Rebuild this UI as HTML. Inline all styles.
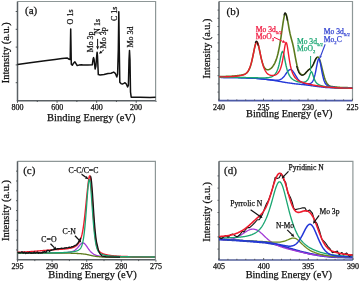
<!DOCTYPE html>
<html><head><meta charset="utf-8"><style>
html,body{margin:0;padding:0;background:#fff;width:360px;height:282px;overflow:hidden;}
svg{display:block;will-change:transform;}
text{font-family:"Liberation Serif",serif;}
</style></head><body>
<svg width="360" height="282" viewBox="0 0 360 282">
<path d="M17.5,1.5 H155.6 V100.8" fill="none" stroke="#8e9797" stroke-width="1.2"/>
<path d="M17.5,1.5 V100.8" fill="none" stroke="#5a6064" stroke-width="1.5"/>
<path d="M16.8,100.8 H155.6" fill="none" stroke="#5a6064" stroke-width="1.6"/>
<path d="M15.7,82.7 H17.5" stroke="#4e5458" stroke-width="1"/>
<path d="M15.7,64.9 H17.5" stroke="#4e5458" stroke-width="1"/>
<path d="M15.7,47.099999999999994 H17.5" stroke="#4e5458" stroke-width="1"/>
<path d="M15.7,29.299999999999997 H17.5" stroke="#4e5458" stroke-width="1"/>
<path d="M15.7,11.5 H17.5" stroke="#4e5458" stroke-width="1"/>
<path d="M17.50,100.8 V102.8" stroke="#4e5458" stroke-width="1"/>
<path d="M37.29,100.8 V102.0" stroke="#4e5458" stroke-width="1"/>
<path d="M57.07,100.8 V102.8" stroke="#4e5458" stroke-width="1"/>
<path d="M76.86,100.8 V102.0" stroke="#4e5458" stroke-width="1"/>
<path d="M96.64,100.8 V102.8" stroke="#4e5458" stroke-width="1"/>
<path d="M116.43,100.8 V102.0" stroke="#4e5458" stroke-width="1"/>
<path d="M136.22,100.8 V102.8" stroke="#4e5458" stroke-width="1"/>
<path d="M156.00,100.8 V102.0" stroke="#4e5458" stroke-width="1"/>
<text x="17.5" y="109.5" font-size="8" fill="#111" stroke="#111" stroke-width="0.25" text-anchor="middle" >800</text>
<text x="57.2" y="109.5" font-size="8" fill="#111" stroke="#111" stroke-width="0.25" text-anchor="middle" >600</text>
<text x="96.7" y="109.5" font-size="8" fill="#111" stroke="#111" stroke-width="0.25" text-anchor="middle" >400</text>
<text x="136.1" y="109.5" font-size="8" fill="#111" stroke="#111" stroke-width="0.25" text-anchor="middle" >200</text>
<text x="47" y="120.8" font-size="10.5" fill="#111" stroke="#111" stroke-width="0.25" text-anchor="start" >Binding Energy (eV)</text>
<text transform="translate(8.9,83.2) rotate(-90)" font-size="10.4" fill="#111" stroke="#111" stroke-width="0.25" text-anchor="start">Intensity (a.u.)</text>
<text x="25" y="13.9" font-size="11" fill="#111" stroke="#111" stroke-width="0.25" text-anchor="start" >(a)</text>
<path d="M17.50,64.50 L30.00,62.80 L45.00,60.80 L55.00,59.40 L62.00,58.60 L67.40,58.10 L69.20,59.30 L70.20,59.60 L70.50,40.00 L70.70,28.90 L70.90,40.00 L71.30,64.30 L72.30,65.30 L73.50,63.20 L74.90,61.80 L76.00,63.60 L77.20,65.60 L79.00,65.10 L81.60,64.80 L83.00,65.00 L88.00,65.00 L92.30,64.80 L93.10,59.00 L93.60,57.60 L94.10,59.50 L95.10,69.00 L95.90,66.00 L96.70,56.00 L97.10,52.20 L97.50,56.00 L98.30,74.60 L100.00,74.90 L104.00,74.50 L108.00,73.60 L111.00,73.20 L113.70,72.10 L115.30,73.30 L116.80,77.00 L117.60,74.00 L118.30,50.00 L118.80,11.80 L119.30,50.00 L119.80,82.20 L121.00,83.60 L122.30,84.10 L123.80,83.40 L125.00,82.70 L126.30,84.00 L127.60,87.00 L128.40,85.50 L129.00,60.00 L129.50,50.60 L130.00,60.00 L130.50,92.00 L131.20,97.20 L140.00,97.30 L150.00,97.40 L155.60,97.30" fill="none" stroke="#111" stroke-width="1.5" stroke-linejoin="round"/>
<text transform="translate(72.6,24.4) rotate(-90)" font-size="8" fill="#111" stroke="#111" stroke-width="0.25" text-anchor="start">O 1s</text>
<text transform="translate(116.8,21.1) rotate(-90)" font-size="8" fill="#111" stroke="#111" stroke-width="0.25" text-anchor="start">C 1s</text>
<text transform="translate(132.9,47.5) rotate(-90)" font-size="8" fill="#111" stroke="#111" stroke-width="0.25" text-anchor="start">Mo 3d</text>
<text transform="translate(100.0,33.9) rotate(-90)" font-size="8" fill="#111" stroke="#111" stroke-width="0.25" text-anchor="start">N 1s</text>
<text transform="translate(92.6,52.2) rotate(-90)" font-size="7.8" fill="#111" stroke="#111" stroke-width="0.25" text-anchor="start">Mo 3p</text>
<text transform="translate(106.2,48.4) rotate(-90)" font-size="8" fill="#111" stroke="#111" stroke-width="0.25" text-anchor="start">Mo 3p</text>
<path d="M97.60,38.90 L97.60,46.30" stroke="#111" stroke-width="1.0" fill="none"/>
<path d="M97.60,49.80 L96.10,46.30 L99.10,46.30 Z" fill="#111"/>
<path d="M103.90,49.80 L101.40,51.80" stroke="#111" stroke-width="1.0" fill="none"/>
<path d="M98.90,53.80 L100.46,50.63 L102.34,52.97 Z" fill="#111"/>
<path d="M219,1.5 H352.5 V100.6" fill="none" stroke="#8e9797" stroke-width="1.2"/>
<path d="M219,1.5 V100.6" fill="none" stroke="#5a6064" stroke-width="1.5"/>
<path d="M218.3,100.6 H352.5" fill="none" stroke="#4d5aa8" stroke-width="1.6"/>
<path d="M217.5,92.1 H219" stroke="#4e5458" stroke-width="0.9"/>
<path d="M217.5,83.9 H219" stroke="#4e5458" stroke-width="0.9"/>
<path d="M217.5,75.7 H219" stroke="#4e5458" stroke-width="0.9"/>
<path d="M217.5,67.5 H219" stroke="#4e5458" stroke-width="0.9"/>
<path d="M217.5,59.3 H219" stroke="#4e5458" stroke-width="0.9"/>
<path d="M217.5,51.1 H219" stroke="#4e5458" stroke-width="0.9"/>
<path d="M217.5,42.900000000000006 H219" stroke="#4e5458" stroke-width="0.9"/>
<path d="M217.5,34.7 H219" stroke="#4e5458" stroke-width="0.9"/>
<path d="M217.5,26.5 H219" stroke="#4e5458" stroke-width="0.9"/>
<path d="M217.5,18.299999999999997 H219" stroke="#4e5458" stroke-width="0.9"/>
<path d="M217.5,10.100000000000009 H219" stroke="#4e5458" stroke-width="0.9"/>
<path d="M219.00,100.6 V98.6" stroke="#4e5458" stroke-width="0.9"/>
<path d="M227.90,100.6 V99.39999999999999" stroke="#4e5458" stroke-width="0.9"/>
<path d="M236.80,100.6 V99.39999999999999" stroke="#4e5458" stroke-width="0.9"/>
<path d="M245.70,100.6 V99.39999999999999" stroke="#4e5458" stroke-width="0.9"/>
<path d="M254.60,100.6 V99.39999999999999" stroke="#4e5458" stroke-width="0.9"/>
<path d="M263.50,100.6 V98.6" stroke="#4e5458" stroke-width="0.9"/>
<path d="M272.40,100.6 V99.39999999999999" stroke="#4e5458" stroke-width="0.9"/>
<path d="M281.30,100.6 V99.39999999999999" stroke="#4e5458" stroke-width="0.9"/>
<path d="M290.20,100.6 V99.39999999999999" stroke="#4e5458" stroke-width="0.9"/>
<path d="M299.10,100.6 V99.39999999999999" stroke="#4e5458" stroke-width="0.9"/>
<path d="M308.00,100.6 V98.6" stroke="#4e5458" stroke-width="0.9"/>
<path d="M316.90,100.6 V99.39999999999999" stroke="#4e5458" stroke-width="0.9"/>
<path d="M325.80,100.6 V99.39999999999999" stroke="#4e5458" stroke-width="0.9"/>
<path d="M334.70,100.6 V99.39999999999999" stroke="#4e5458" stroke-width="0.9"/>
<path d="M343.60,100.6 V99.39999999999999" stroke="#4e5458" stroke-width="0.9"/>
<path d="M352.50,100.6 V98.6" stroke="#4e5458" stroke-width="0.9"/>
<text x="219.0" y="109.5" font-size="8" fill="#111" stroke="#111" stroke-width="0.25" text-anchor="middle" >240</text>
<text x="263.5" y="109.5" font-size="8" fill="#111" stroke="#111" stroke-width="0.25" text-anchor="middle" >235</text>
<text x="308.0" y="109.5" font-size="8" fill="#111" stroke="#111" stroke-width="0.25" text-anchor="middle" >230</text>
<text x="352.5" y="109.5" font-size="8" fill="#111" stroke="#111" stroke-width="0.25" text-anchor="middle" >225</text>
<text x="246.1" y="117.1" font-size="10.25" fill="#111" stroke="#111" stroke-width="0.25" text-anchor="start" >Binding Energy (eV)</text>
<text transform="translate(210.3,78.4) rotate(-90)" font-size="10.2" fill="#111" stroke="#111" stroke-width="0.25" text-anchor="start">Intensity (a.u.)</text>
<text x="226.6" y="14.5" font-size="11" fill="#111" stroke="#111" stroke-width="0.25" text-anchor="start" >(b)</text>
<path d="M219.00,76.59 L219.50,76.58 L220.00,76.57 L220.50,76.56 L221.00,76.55 L221.50,76.54 L222.00,76.53 L222.50,76.52 L223.00,76.51 L223.50,76.50 L224.00,76.48 L224.50,76.47 L225.00,76.46 L225.50,76.44 L226.00,76.42 L226.50,76.41 L227.00,76.39 L227.50,76.37 L228.00,76.35 L228.50,76.33 L229.00,76.31 L229.50,76.28 L230.00,76.26 L230.50,76.23 L231.00,76.21 L231.50,76.18 L232.00,76.15 L232.50,76.12 L233.00,76.08 L233.50,76.05 L234.00,76.01 L234.50,75.97 L235.00,75.92 L235.50,75.88 L236.00,75.83 L236.50,75.78 L237.00,75.72 L237.50,75.66 L238.00,75.60 L238.50,75.53 L239.00,75.46 L239.50,75.38 L240.00,75.30 L240.50,75.22 L241.00,75.14 L241.50,75.04 L242.00,74.94 L242.50,74.83 L243.00,74.70 L243.50,74.55 L244.00,74.39 L244.50,74.20 L245.00,73.98 L245.50,73.72 L246.00,73.41 L246.50,73.04 L247.00,72.60 L247.50,72.07 L248.00,71.43 L248.50,70.67 L249.00,69.76 L249.50,68.69 L250.00,67.43 L250.50,65.97 L251.00,64.31 L251.50,62.43 L252.00,60.35 L252.50,58.08 L253.00,55.66 L253.50,53.13 L254.00,50.58 L254.50,48.11 L255.00,45.84 L255.50,43.97 L256.00,42.60 L256.50,41.88 L257.00,41.87 L257.50,42.57 L258.00,43.91 L258.50,45.74 L259.00,47.91 L259.50,50.26 L260.00,52.68 L260.50,55.06 L261.00,57.32 L261.50,59.42 L262.00,61.33 L262.50,63.02 L263.00,64.49 L263.50,65.75 L264.00,66.79 L264.50,67.65 L265.00,68.32 L265.50,68.86 L266.00,69.25 L266.50,69.52 L267.00,69.69 L267.50,69.76 L268.00,69.75 L268.50,69.67 L269.00,69.52 L269.50,69.31 L270.00,69.04 L270.50,68.71 L271.00,68.32 L271.50,67.86 L272.00,67.35 L272.50,66.76 L273.00,66.10 L273.50,65.36 L274.00,64.52 L274.50,63.59 L275.00,62.55 L275.50,61.42 L276.00,60.15 L276.50,58.73 L277.00,57.16 L277.50,55.40 L278.00,53.46 L278.50,51.30 L279.00,48.93 L279.50,46.32 L280.00,43.48 L280.50,40.41 L281.00,37.14 L281.50,33.70 L282.00,30.16 L282.50,26.62 L283.00,23.21 L283.50,20.07 L284.00,17.38 L284.50,15.32 L285.00,14.02 L285.50,13.57 L286.00,14.00 L286.50,15.26 L287.00,17.23 L287.50,19.72 L288.00,22.53 L288.50,25.45 L289.00,28.32 L289.50,31.00 L290.00,33.43 L290.50,35.61 L291.00,37.56 L291.50,39.39 L292.00,41.19 L292.50,43.07 L293.00,45.12 L293.50,47.39 L294.00,49.87 L294.50,52.54 L295.00,55.30 L295.50,58.05 L296.00,60.70 L296.50,63.17 L297.00,65.40 L297.50,67.35 L298.00,69.02 L298.50,70.41 L299.00,71.56 L299.50,72.50 L300.00,73.24 L300.50,73.83 L301.00,74.27 L301.50,74.59 L302.00,74.78 L302.50,74.85 L303.00,74.81 L303.50,74.66 L304.00,74.40 L304.50,74.05 L305.00,73.61 L305.50,73.13 L306.00,72.60 L306.50,72.05 L307.00,71.49 L307.50,70.95 L308.00,70.43 L308.50,69.96 L309.00,69.52 L309.50,69.10 L310.00,68.70 L310.50,68.27 L311.00,67.81 L311.50,67.28 L312.00,66.65 L312.50,65.91 L313.00,65.05 L313.50,64.08 L314.00,63.02 L314.50,61.90 L315.00,60.77 L315.50,59.68 L316.00,58.71 L316.50,57.91 L317.00,57.34 L317.50,57.06 L318.00,57.10 L318.50,57.48 L319.00,58.21 L319.50,59.28 L320.00,60.64 L320.50,62.27 L321.00,64.10 L321.50,66.07 L322.00,68.13 L322.50,70.21 L323.00,72.25 L323.50,74.21 L324.00,76.04 L324.50,77.73 L325.00,79.24 L325.50,80.55 L326.00,81.69 L326.50,82.66 L327.00,83.47 L327.50,84.14 L328.00,84.69 L328.50,85.13 L329.00,85.48 L329.50,85.76 L330.00,85.99 L330.50,86.17 L331.00,86.31 L331.50,86.43 L332.00,86.53 L332.50,86.61 L333.00,86.69 L333.50,86.75 L334.00,86.82 L334.50,86.87 L335.00,86.93 L335.50,86.98 L336.00,87.03 L336.50,87.08 L337.00,87.13 L337.50,87.18 L338.00,87.23 L338.50,87.28 L339.00,87.32 L339.50,87.37 L340.00,87.41 L340.50,87.43 L341.00,87.45 L341.50,87.47 L342.00,87.49 L342.50,87.51 L343.00,87.53 L343.50,87.54 L344.00,87.56 L344.50,87.58 L345.00,87.59 L345.50,87.61 L346.00,87.63 L346.50,87.64 L347.00,87.66 L347.50,87.67 L348.00,87.69 L348.50,87.70 L349.00,87.71 L349.50,87.73 L350.00,87.74 L350.50,87.76 L351.00,87.77 L351.50,87.78 L352.00,87.79 L352.50,87.81" fill="none" stroke="#5b7a1c" stroke-width="1.6"/>
<path d="M219.00,77.40 L219.50,77.41 L220.00,77.41 L220.50,77.42 L221.00,77.43 L221.50,77.44 L222.00,77.44 L222.50,77.45 L223.00,77.46 L223.50,77.46 L224.00,77.47 L224.50,77.48 L225.00,77.49 L225.50,77.49 L226.00,77.50 L226.50,77.51 L227.00,77.51 L227.50,77.52 L228.00,77.53 L228.50,77.54 L229.00,77.54 L229.50,77.55 L230.00,77.56 L230.50,77.56 L231.00,77.57 L231.50,77.58 L232.00,77.59 L232.50,77.59 L233.00,77.60 L233.50,77.61 L234.00,77.61 L234.50,77.62 L235.00,77.63 L235.50,77.64 L236.00,77.64 L236.50,77.65 L237.00,77.66 L237.50,77.66 L238.00,77.67 L238.50,77.68 L239.00,77.69 L239.50,77.69 L240.00,77.70 L240.50,77.72 L241.00,77.74 L241.50,77.76 L242.00,77.78 L242.50,77.80 L243.00,77.82 L243.50,77.84 L244.00,77.86 L244.50,77.88 L245.00,77.90 L245.50,77.92 L246.00,77.94 L246.50,77.96 L247.00,77.98 L247.50,78.00 L248.00,78.02 L248.50,78.04 L249.00,78.06 L249.50,78.08 L250.00,78.10 L250.50,78.12 L251.00,78.14 L251.50,78.16 L252.00,78.18 L252.50,78.20 L253.00,78.22 L253.50,78.24 L254.00,78.26 L254.50,78.28 L255.00,78.30 L255.50,78.35 L256.00,78.40 L256.50,78.45 L257.00,78.50 L257.50,78.55 L258.00,78.60 L258.50,78.65 L259.00,78.70 L259.50,78.75 L260.00,78.80 L260.50,78.85 L261.00,78.90 L261.50,78.95 L262.00,79.00 L262.50,79.05 L263.00,79.10 L263.50,79.15 L264.00,79.20 L264.50,79.25 L265.00,79.30 L265.50,79.36 L266.00,79.43 L266.50,79.49 L267.00,79.56 L267.50,79.62 L268.00,79.69 L268.50,79.75 L269.00,79.82 L269.50,79.88 L270.00,79.95 L270.50,80.02 L271.00,80.08 L271.50,80.14 L272.00,80.21 L272.50,80.27 L273.00,80.34 L273.50,80.41 L274.00,80.47 L274.50,80.53 L275.00,80.60 L275.50,80.69 L276.00,80.78 L276.50,80.87 L277.00,80.96 L277.50,81.05 L278.00,81.14 L278.50,81.23 L279.00,81.32 L279.50,81.41 L280.00,81.50 L280.50,81.59 L281.00,81.68 L281.50,81.77 L282.00,81.86 L282.50,81.95 L283.00,82.04 L283.50,82.13 L284.00,82.22 L284.50,82.31 L285.00,82.40 L285.50,82.47 L286.00,82.54 L286.50,82.61 L287.00,82.68 L287.50,82.75 L288.00,82.82 L288.50,82.89 L289.00,82.96 L289.50,83.03 L290.00,83.10 L290.50,83.17 L291.00,83.24 L291.50,83.31 L292.00,83.38 L292.50,83.45 L293.00,83.52 L293.50,83.59 L294.00,83.66 L294.50,83.73 L295.00,83.80 L295.50,83.85 L296.00,83.90 L296.50,83.95 L297.00,84.00 L297.50,84.05 L298.00,84.10 L298.50,84.15 L299.00,84.20 L299.50,84.25 L300.00,84.30 L300.50,84.35 L301.00,84.40 L301.50,84.45 L302.00,84.50 L302.50,84.55 L303.00,84.60 L303.50,84.65 L304.00,84.70 L304.50,84.75 L305.00,84.80 L305.50,84.87 L306.00,84.94 L306.50,85.01 L307.00,85.08 L307.50,85.15 L308.00,85.22 L308.50,85.29 L309.00,85.36 L309.50,85.43 L310.00,85.50 L310.50,85.57 L311.00,85.64 L311.50,85.71 L312.00,85.78 L312.50,85.85 L313.00,85.92 L313.50,85.99 L314.00,86.06 L314.50,86.13 L315.00,86.20 L315.50,86.26 L316.00,86.32 L316.50,86.38 L317.00,86.44 L317.50,86.50 L318.00,86.56 L318.50,86.62 L319.00,86.68 L319.50,86.74 L320.00,86.80 L320.50,86.86 L321.00,86.92 L321.50,86.98 L322.00,87.04 L322.50,87.10 L323.00,87.16 L323.50,87.22 L324.00,87.28 L324.50,87.34 L325.00,87.40 L325.50,87.43 L326.00,87.46 L326.50,87.49 L327.00,87.52 L327.50,87.55 L328.00,87.58 L328.50,87.61 L329.00,87.64 L329.50,87.67 L330.00,87.70 L330.50,87.73 L331.00,87.76 L331.50,87.79 L332.00,87.82 L332.50,87.85 L333.00,87.88 L333.50,87.91 L334.00,87.94 L334.50,87.97 L335.00,88.00 L335.50,88.03 L336.00,88.06 L336.50,88.09 L337.00,88.12 L337.50,88.15 L338.00,88.18 L338.50,88.21 L339.00,88.24 L339.50,88.27 L340.00,88.30 L340.50,88.30 L341.00,88.31 L341.50,88.31 L342.00,88.32 L342.50,88.32 L343.00,88.32 L343.50,88.33 L344.00,88.33 L344.50,88.34 L345.00,88.34 L345.50,88.34 L346.00,88.35 L346.50,88.35 L347.00,88.36 L347.50,88.36 L348.00,88.36 L348.50,88.37 L349.00,88.37 L349.50,88.38 L350.00,88.38 L350.50,88.38 L351.00,88.39 L351.50,88.39 L352.00,88.40 L352.50,88.40" fill="none" stroke="#2438d8" stroke-width="1.4"/>
<path d="M219.00,77.37 L219.50,77.38 L220.00,77.38 L220.50,77.39 L221.00,77.40 L221.50,77.40 L222.00,77.41 L222.50,77.42 L223.00,77.42 L223.50,77.43 L224.00,77.44 L224.50,77.44 L225.00,77.45 L225.50,77.46 L226.00,77.46 L226.50,77.47 L227.00,77.48 L227.50,77.48 L228.00,77.49 L228.50,77.50 L229.00,77.50 L229.50,77.51 L230.00,77.52 L230.50,77.52 L231.00,77.53 L231.50,77.54 L232.00,77.54 L232.50,77.55 L233.00,77.56 L233.50,77.56 L234.00,77.57 L234.50,77.57 L235.00,77.58 L235.50,77.59 L236.00,77.59 L236.50,77.60 L237.00,77.61 L237.50,77.61 L238.00,77.62 L238.50,77.63 L239.00,77.63 L239.50,77.64 L240.00,77.64 L240.50,77.66 L241.00,77.68 L241.50,77.70 L242.00,77.72 L242.50,77.74 L243.00,77.76 L243.50,77.78 L244.00,77.80 L244.50,77.82 L245.00,77.83 L245.50,77.85 L246.00,77.87 L246.50,77.89 L247.00,77.91 L247.50,77.93 L248.00,77.95 L248.50,77.97 L249.00,77.98 L249.50,78.00 L250.00,78.02 L250.50,78.04 L251.00,78.06 L251.50,78.08 L252.00,78.09 L252.50,78.11 L253.00,78.13 L253.50,78.15 L254.00,78.17 L254.50,78.18 L255.00,78.20 L255.50,78.25 L256.00,78.30 L256.50,78.34 L257.00,78.39 L257.50,78.44 L258.00,78.49 L258.50,78.53 L259.00,78.58 L259.50,78.63 L260.00,78.67 L260.50,78.72 L261.00,78.77 L261.50,78.81 L262.00,78.86 L262.50,78.91 L263.00,78.95 L263.50,79.00 L264.00,79.04 L264.50,79.09 L265.00,79.13 L265.50,79.19 L266.00,79.25 L266.50,79.31 L267.00,79.37 L267.50,79.43 L268.00,79.48 L268.50,79.54 L269.00,79.60 L269.50,79.65 L270.00,79.71 L270.50,79.76 L271.00,79.82 L271.50,79.87 L272.00,79.92 L272.50,79.97 L273.00,80.01 L273.50,80.06 L274.00,80.09 L274.50,80.13 L275.00,80.15 L275.50,80.19 L276.00,80.22 L276.50,80.24 L277.00,80.24 L277.50,80.23 L278.00,80.19 L278.50,80.12 L279.00,80.02 L279.50,79.88 L280.00,79.71 L280.50,79.49 L281.00,79.22 L281.50,78.90 L282.00,78.53 L282.50,78.09 L283.00,77.61 L283.50,77.07 L284.00,76.48 L284.50,75.85 L285.00,75.18 L285.50,74.47 L286.00,73.74 L286.50,73.02 L287.00,72.32 L287.50,71.66 L288.00,71.05 L288.50,70.52 L289.00,70.09 L289.50,69.78 L290.00,69.59 L290.50,69.54 L291.00,69.64 L291.50,69.88 L292.00,70.26 L292.50,70.75 L293.00,71.36 L293.50,72.05 L294.00,72.81 L294.50,73.62 L295.00,74.46 L295.50,75.29 L296.00,76.12 L296.50,76.92 L297.00,77.70 L297.50,78.43 L298.00,79.12 L298.50,79.75 L299.00,80.33 L299.50,80.86 L300.00,81.32 L300.50,81.73 L301.00,82.09 L301.50,82.40 L302.00,82.67 L302.50,82.89 L303.00,83.08 L303.50,83.23 L304.00,83.36 L304.50,83.46 L305.00,83.54 L305.50,83.62 L306.00,83.68 L306.50,83.73 L307.00,83.76 L307.50,83.77 L308.00,83.77 L308.50,83.74 L309.00,83.69 L309.50,83.61 L310.00,83.49 L310.50,83.32 L311.00,83.07 L311.50,82.72 L312.00,82.24 L312.50,81.60 L313.00,80.76 L313.50,79.67 L314.00,78.30 L314.50,76.63 L315.00,74.65 L315.50,72.37 L316.00,69.86 L316.50,67.20 L317.00,64.55 L317.50,62.14 L318.00,60.22 L318.50,59.09 L319.00,58.94 L319.50,59.82 L320.00,61.59 L320.50,63.97 L321.00,66.68 L321.50,69.48 L322.00,72.19 L322.50,74.70 L323.00,76.94 L323.50,78.87 L324.00,80.49 L324.50,81.83 L325.00,82.90 L325.50,83.73 L326.00,84.38 L326.50,84.88 L327.00,85.28 L327.50,85.59 L328.00,85.84 L328.50,86.05 L329.00,86.23 L329.50,86.38 L330.00,86.52 L330.50,86.64 L331.00,86.75 L331.50,86.85 L332.00,86.95 L332.50,87.03 L333.00,87.12 L333.50,87.19 L334.00,87.27 L334.50,87.33 L335.00,87.40 L335.50,87.46 L336.00,87.52 L336.50,87.58 L337.00,87.64 L337.50,87.69 L338.00,87.74 L338.50,87.79 L339.00,87.84 L339.50,87.89 L340.00,87.94 L340.50,87.96 L341.00,87.97 L341.50,87.99 L342.00,88.01 L342.50,88.02 L343.00,88.04 L343.50,88.05 L344.00,88.07 L344.50,88.08 L345.00,88.09 L345.50,88.11 L346.00,88.12 L346.50,88.13 L347.00,88.14 L347.50,88.15 L348.00,88.16 L348.50,88.17 L349.00,88.18 L349.50,88.19 L350.00,88.20 L350.50,88.21 L351.00,88.22 L351.50,88.23 L352.00,88.24 L352.50,88.25" fill="none" stroke="#2438d8" stroke-width="1.4"/>
<path d="M219.00,77.28 L219.50,77.28 L220.00,77.29 L220.50,77.29 L221.00,77.30 L221.50,77.30 L222.00,77.31 L222.50,77.31 L223.00,77.32 L223.50,77.32 L224.00,77.33 L224.50,77.33 L225.00,77.34 L225.50,77.34 L226.00,77.34 L226.50,77.35 L227.00,77.35 L227.50,77.36 L228.00,77.36 L228.50,77.37 L229.00,77.37 L229.50,77.37 L230.00,77.38 L230.50,77.38 L231.00,77.39 L231.50,77.39 L232.00,77.39 L232.50,77.40 L233.00,77.40 L233.50,77.40 L234.00,77.41 L234.50,77.41 L235.00,77.41 L235.50,77.41 L236.00,77.42 L236.50,77.42 L237.00,77.42 L237.50,77.42 L238.00,77.43 L238.50,77.43 L239.00,77.43 L239.50,77.43 L240.00,77.43 L240.50,77.45 L241.00,77.46 L241.50,77.47 L242.00,77.49 L242.50,77.50 L243.00,77.51 L243.50,77.52 L244.00,77.54 L244.50,77.55 L245.00,77.56 L245.50,77.57 L246.00,77.58 L246.50,77.59 L247.00,77.60 L247.50,77.61 L248.00,77.62 L248.50,77.63 L249.00,77.64 L249.50,77.64 L250.00,77.65 L250.50,77.66 L251.00,77.66 L251.50,77.67 L252.00,77.67 L252.50,77.68 L253.00,77.68 L253.50,77.68 L254.00,77.68 L254.50,77.68 L255.00,77.68 L255.50,77.71 L256.00,77.74 L256.50,77.76 L257.00,77.79 L257.50,77.81 L258.00,77.83 L258.50,77.85 L259.00,77.87 L259.50,77.88 L260.00,77.90 L260.50,77.91 L261.00,77.91 L261.50,77.92 L262.00,77.92 L262.50,77.92 L263.00,77.92 L263.50,77.91 L264.00,77.89 L264.50,77.87 L265.00,77.85 L265.50,77.84 L266.00,77.81 L266.50,77.78 L267.00,77.75 L267.50,77.70 L268.00,77.64 L268.50,77.57 L269.00,77.49 L269.50,77.39 L270.00,77.27 L270.50,77.13 L271.00,76.97 L271.50,76.78 L272.00,76.57 L272.50,76.31 L273.00,76.02 L273.50,75.67 L274.00,75.27 L274.50,74.80 L275.00,74.26 L275.50,73.64 L276.00,72.91 L276.50,72.05 L277.00,71.03 L277.50,69.83 L278.00,68.42 L278.50,66.77 L279.00,64.88 L279.50,62.74 L280.00,60.39 L280.50,57.93 L281.00,55.53 L281.50,53.45 L282.00,51.98 L282.50,51.39 L283.00,51.80 L283.50,53.15 L284.00,55.21 L284.50,57.69 L285.00,60.33 L285.50,62.88 L286.00,65.26 L286.50,67.40 L287.00,69.28 L287.50,70.92 L288.00,72.35 L288.50,73.58 L289.00,74.64 L289.50,75.57 L290.00,76.37 L290.50,77.07 L291.00,77.69 L291.50,78.24 L292.00,78.72 L292.50,79.15 L293.00,79.54 L293.50,79.89 L294.00,80.20 L294.50,80.48 L295.00,80.74 L295.50,80.96 L296.00,81.15 L296.50,81.33 L297.00,81.48 L297.50,81.63 L298.00,81.76 L298.50,81.87 L299.00,81.97 L299.50,82.06 L300.00,82.13 L300.50,82.19 L301.00,82.24 L301.50,82.27 L302.00,82.28 L302.50,82.28 L303.00,82.25 L303.50,82.20 L304.00,82.12 L304.50,82.00 L305.00,81.84 L305.50,81.65 L306.00,81.39 L306.50,81.05 L307.00,80.61 L307.50,80.03 L308.00,79.29 L308.50,78.36 L309.00,77.21 L309.50,75.85 L310.00,74.38 L310.50,72.98 L311.00,71.99 L311.50,71.74 L312.00,72.34 L312.50,73.61 L313.00,75.22 L313.50,76.86 L314.00,78.36 L314.50,79.64 L315.00,80.71 L315.50,81.59 L316.00,82.31 L316.50,82.90 L317.00,83.40 L317.50,83.82 L318.00,84.18 L318.50,84.49 L319.00,84.76 L319.50,85.00 L320.00,85.21 L320.50,85.40 L321.00,85.58 L321.50,85.74 L322.00,85.89 L322.50,86.03 L323.00,86.16 L323.50,86.28 L324.00,86.40 L324.50,86.51 L325.00,86.61 L325.50,86.69 L326.00,86.75 L326.50,86.82 L327.00,86.88 L327.50,86.94 L328.00,87.00 L328.50,87.05 L329.00,87.11 L329.50,87.16 L330.00,87.21 L330.50,87.26 L331.00,87.30 L331.50,87.35 L332.00,87.40 L332.50,87.44 L333.00,87.49 L333.50,87.53 L334.00,87.57 L334.50,87.61 L335.00,87.65 L335.50,87.69 L336.00,87.73 L336.50,87.77 L337.00,87.81 L337.50,87.85 L338.00,87.89 L338.50,87.93 L339.00,87.96 L339.50,88.00 L340.00,88.04 L340.50,88.05 L341.00,88.06 L341.50,88.07 L342.00,88.08 L342.50,88.09 L343.00,88.10 L343.50,88.11 L344.00,88.12 L344.50,88.12 L345.00,88.13 L345.50,88.14 L346.00,88.15 L346.50,88.16 L347.00,88.17 L347.50,88.17 L348.00,88.18 L348.50,88.19 L349.00,88.20 L349.50,88.20 L350.00,88.21 L350.50,88.22 L351.00,88.23 L351.50,88.23 L352.00,88.24 L352.50,88.25" fill="none" stroke="#1aa672" stroke-width="1.4"/>
<path d="M219.00,76.90 L219.50,76.90 L220.00,76.89 L220.50,76.89 L221.00,76.88 L221.50,76.88 L222.00,76.87 L222.50,76.86 L223.00,76.85 L223.50,76.85 L224.00,76.84 L224.50,76.83 L225.00,76.81 L225.50,76.80 L226.00,76.79 L226.50,76.78 L227.00,76.76 L227.50,76.75 L228.00,76.73 L228.50,76.71 L229.00,76.69 L229.50,76.67 L230.00,76.65 L230.50,76.63 L231.00,76.60 L231.50,76.58 L232.00,76.55 L232.50,76.52 L233.00,76.49 L233.50,76.45 L234.00,76.42 L234.50,76.38 L235.00,76.33 L235.50,76.29 L236.00,76.24 L236.50,76.19 L237.00,76.13 L237.50,76.07 L238.00,76.00 L238.50,75.93 L239.00,75.85 L239.50,75.76 L240.00,75.67 L240.50,75.58 L241.00,75.49 L241.50,75.38 L242.00,75.26 L242.50,75.12 L243.00,74.96 L243.50,74.79 L244.00,74.59 L244.50,74.35 L245.00,74.08 L245.50,73.77 L246.00,73.40 L246.50,72.96 L247.00,72.45 L247.50,71.85 L248.00,71.15 L248.50,70.32 L249.00,69.36 L249.50,68.25 L250.00,66.98 L250.50,65.53 L251.00,63.90 L251.50,62.09 L252.00,60.09 L252.50,57.93 L253.00,55.64 L253.50,53.25 L254.00,50.82 L254.50,48.46 L255.00,46.27 L255.50,44.41 L256.00,43.02 L256.50,42.20 L257.00,42.04 L257.50,42.57 L258.00,43.73 L258.50,45.42 L259.00,47.49 L259.50,49.81 L260.00,52.24 L260.50,54.68 L261.00,57.05 L261.50,59.31 L262.00,61.42 L262.50,63.34 L263.00,65.09 L263.50,66.65 L264.00,68.02 L264.50,69.23 L265.00,70.27 L265.50,71.19 L266.00,71.97 L266.50,72.63 L267.00,73.19 L267.50,73.67 L268.00,74.06 L268.50,74.39 L269.00,74.67 L269.50,74.89 L270.00,75.08 L270.50,75.22 L271.00,75.33 L271.50,75.40 L272.00,75.45 L272.50,75.47 L273.00,75.45 L273.50,75.40 L274.00,75.32 L274.50,75.20 L275.00,75.05 L275.50,74.87 L276.00,74.65 L276.50,74.37 L277.00,74.02 L277.50,73.60 L278.00,73.10 L278.50,72.49 L279.00,71.75 L279.50,70.88 L280.00,69.84 L280.50,68.59 L281.00,67.11 L281.50,65.36 L282.00,63.29 L282.50,60.88 L283.00,58.13 L283.50,55.06 L284.00,51.79 L284.50,48.55 L285.00,45.67 L285.50,43.55 L286.00,42.59 L286.50,42.99 L287.00,44.70 L287.50,47.41 L288.00,50.70 L288.50,54.19 L289.00,57.59 L289.50,60.73 L290.00,63.53 L290.50,65.99 L291.00,68.12 L291.50,69.95 L292.00,71.53 L292.50,72.90 L293.00,74.07 L293.50,75.10 L294.00,75.99 L294.50,76.77 L295.00,77.46 L295.50,78.06 L296.00,78.59 L296.50,79.06 L297.00,79.48 L297.50,79.87 L298.00,80.21 L298.50,80.53 L299.00,80.82 L299.50,81.09 L300.00,81.33 L300.50,81.56 L301.00,81.77 L301.50,81.97 L302.00,82.16 L302.50,82.33 L303.00,82.50 L303.50,82.65 L304.00,82.80 L304.50,82.94 L305.00,83.07 L305.50,83.22 L306.00,83.36 L306.50,83.50 L307.00,83.64 L307.50,83.77 L308.00,83.89 L308.50,84.01 L309.00,84.13 L309.50,84.25 L310.00,84.36 L310.50,84.47 L311.00,84.58 L311.50,84.69 L312.00,84.79 L312.50,84.90 L313.00,85.00 L313.50,85.10 L314.00,85.20 L314.50,85.29 L315.00,85.39 L315.50,85.47 L316.00,85.56 L316.50,85.64 L317.00,85.72 L317.50,85.80 L318.00,85.88 L318.50,85.96 L319.00,86.03 L319.50,86.11 L320.00,86.19 L320.50,86.26 L321.00,86.34 L321.50,86.41 L322.00,86.49 L322.50,86.56 L323.00,86.63 L323.50,86.71 L324.00,86.78 L324.50,86.85 L325.00,86.92 L325.50,86.96 L326.00,87.00 L326.50,87.04 L327.00,87.08 L327.50,87.12 L328.00,87.16 L328.50,87.20 L329.00,87.24 L329.50,87.28 L330.00,87.31 L330.50,87.35 L331.00,87.39 L331.50,87.43 L332.00,87.46 L332.50,87.50 L333.00,87.54 L333.50,87.57 L334.00,87.61 L334.50,87.65 L335.00,87.68 L335.50,87.72 L336.00,87.75 L336.50,87.79 L337.00,87.82 L337.50,87.86 L338.00,87.89 L338.50,87.93 L339.00,87.96 L339.50,88.00 L340.00,88.03 L340.50,88.04 L341.00,88.05 L341.50,88.06 L342.00,88.06 L342.50,88.07 L343.00,88.08 L343.50,88.09 L344.00,88.10 L344.50,88.10 L345.00,88.11 L345.50,88.12 L346.00,88.13 L346.50,88.13 L347.00,88.14 L347.50,88.15 L348.00,88.15 L348.50,88.16 L349.00,88.17 L349.50,88.18 L350.00,88.18 L350.50,88.19 L351.00,88.20 L351.50,88.20 L352.00,88.21 L352.50,88.22" fill="none" stroke="#ee1c2e" stroke-width="1.4"/>
<path d="M255.20,43.05 L255.70,41.80 L256.20,41.22 L256.70,41.35 L257.20,42.19 L257.70,43.64 L258.20,45.55" fill="none" stroke="#151515" stroke-width="1.1"/>
<path d="M283.90,15.36 L284.40,13.74 L284.90,12.94 L285.40,13.02 L285.90,13.97 L286.40,15.67 L286.90,17.98 L287.40,20.68" fill="none" stroke="#151515" stroke-width="1.1"/>
<path d="M296.60,65.80 L297.10,67.75 L297.60,69.42 L298.10,70.81 L298.60,71.96 L299.10,72.90 L299.60,73.64 L300.10,74.23 L300.60,74.67 L301.10,74.99 L301.60,75.18 L302.10,75.25 L302.60,75.21 L303.10,75.06 L303.60,74.80 L304.10,74.45 L304.60,74.01 L305.10,73.53 L305.60,73.00 L306.10,72.45 L306.60,71.89 L307.10,71.35 L307.60,70.83 L308.10,70.36 L308.60,69.92 L309.10,69.50 L309.60,69.10 L310.10,68.67 L310.60,68.21 L311.10,67.68 L311.60,67.05 L312.10,66.31 L312.60,65.45 L313.10,64.48 L313.60,63.42 L314.10,62.30 L314.60,61.17 L315.10,60.08 L315.60,59.11 L316.10,58.31 L316.60,57.74 L317.10,57.46" fill="none" stroke="#151515" stroke-width="1.1"/>
<text x="255.8" y="31.7" font-size="7.6" fill="#f0143c" stroke="#f0143c" stroke-width="0.25">Mo 3d<tspan font-size="4.6" dy="2.5">5/2</tspan></text>
<text x="255.8" y="39.2" font-size="7.6" fill="#f0143c" stroke="#f0143c" stroke-width="0.25">MoO<tspan font-size="4.6" dy="2.2">3</tspan></text>
<path d="M273.90,37.20 L282.71,41.42" stroke="#f0143c" stroke-width="1.0" fill="none"/>
<path d="M285.60,42.80 L282.02,42.86 L283.40,39.98 Z" fill="#f0143c"/>
<text x="296.9" y="43.9" font-size="7.6" fill="#1aa672" stroke="#1aa672" stroke-width="0.25">Mo 3d<tspan font-size="4.6" dy="2.5">5/2</tspan></text>
<text x="296.9" y="51.2" font-size="7.6" fill="#1aa672" stroke="#1aa672" stroke-width="0.25">MoO<tspan font-size="4.6" dy="2.2">2</tspan></text>
<path d="M310.6,56 V71" stroke="#1aa672" stroke-width="1"/>
<text x="323.8" y="33.7" font-size="7.6" fill="#2f3fd0" stroke="#2f3fd0" stroke-width="0.25">Mo 3d<tspan font-size="4.6" dy="2.5">5/2</tspan></text>
<text x="323.8" y="41.7" font-size="7.6" fill="#2f3fd0" stroke="#2f3fd0" stroke-width="0.25">Mo<tspan font-size="4.6" dy="2.2">2</tspan><tspan dy="-2.2">C</tspan></text>
<path d="M325.20,44.20 L320.67,56.00" stroke="#2f3fd0" stroke-width="1.1" fill="none"/>
<path d="M319.60,58.80 L319.46,55.53 L321.89,56.46 Z" fill="#2f3fd0"/>
<path d="M17.5,161.3 H155.4 V259.8" fill="none" stroke="#8e9797" stroke-width="1.2"/>
<path d="M17.5,161.3 V259.8" fill="none" stroke="#5a6064" stroke-width="1.5"/>
<path d="M16.8,259.8 H155.4" fill="none" stroke="#5a6064" stroke-width="1.6"/>
<path d="M16.0,249.95000000000002 H17.5" stroke="#4e5458" stroke-width="0.9"/>
<path d="M16.0,240.10000000000002 H17.5" stroke="#4e5458" stroke-width="0.9"/>
<path d="M16.0,230.25 H17.5" stroke="#4e5458" stroke-width="0.9"/>
<path d="M16.0,220.4 H17.5" stroke="#4e5458" stroke-width="0.9"/>
<path d="M16.0,210.55 H17.5" stroke="#4e5458" stroke-width="0.9"/>
<path d="M16.0,200.70000000000002 H17.5" stroke="#4e5458" stroke-width="0.9"/>
<path d="M16.0,190.85000000000002 H17.5" stroke="#4e5458" stroke-width="0.9"/>
<path d="M16.0,181.0 H17.5" stroke="#4e5458" stroke-width="0.9"/>
<path d="M16.0,171.15000000000003 H17.5" stroke="#4e5458" stroke-width="0.9"/>
<path d="M17.50,259.8 V261.8" stroke="#4e5458" stroke-width="0.9"/>
<path d="M34.80,259.8 V261.1" stroke="#4e5458" stroke-width="0.9"/>
<path d="M52.10,259.8 V261.8" stroke="#4e5458" stroke-width="0.9"/>
<path d="M69.40,259.8 V261.1" stroke="#4e5458" stroke-width="0.9"/>
<path d="M86.70,259.8 V261.8" stroke="#4e5458" stroke-width="0.9"/>
<path d="M104.00,259.8 V261.1" stroke="#4e5458" stroke-width="0.9"/>
<path d="M121.30,259.8 V261.8" stroke="#4e5458" stroke-width="0.9"/>
<path d="M138.60,259.8 V261.1" stroke="#4e5458" stroke-width="0.9"/>
<path d="M155.90,259.8 V261.8" stroke="#4e5458" stroke-width="0.9"/>
<text x="17.5" y="269.3" font-size="8" fill="#111" stroke="#111" stroke-width="0.25" text-anchor="middle" >295</text>
<text x="52.1" y="269.3" font-size="8" fill="#111" stroke="#111" stroke-width="0.25" text-anchor="middle" >290</text>
<text x="86.7" y="269.3" font-size="8" fill="#111" stroke="#111" stroke-width="0.25" text-anchor="middle" >285</text>
<text x="121.3" y="269.3" font-size="8" fill="#111" stroke="#111" stroke-width="0.25" text-anchor="middle" >280</text>
<text x="155.9" y="269.3" font-size="8" fill="#111" stroke="#111" stroke-width="0.25" text-anchor="middle" >275</text>
<text x="48.3" y="277.9" font-size="10.5" fill="#111" stroke="#111" stroke-width="0.25" text-anchor="start" >Binding Energy (eV)</text>
<text transform="translate(8.5,241) rotate(-90)" font-size="10.4" fill="#111" stroke="#111" stroke-width="0.25" text-anchor="start">Intensity (a.u.)</text>
<text x="23.2" y="173.8" font-size="11" fill="#111" stroke="#111" stroke-width="0.25" text-anchor="start" >(c)</text>
<path d="M17.50,252.95 L17.80,252.95 L18.10,252.96 L18.40,252.96 L18.70,252.96 L19.00,252.96 L19.30,252.96 L19.60,252.96 L19.90,252.96 L20.20,252.96 L20.50,252.96 L20.80,252.96 L21.10,252.96 L21.40,252.96 L21.70,252.96 L22.00,252.96 L22.30,252.96 L22.60,252.97 L22.90,252.97 L23.20,252.97 L23.50,252.97 L23.80,252.97 L24.10,252.97 L24.40,252.97 L24.70,252.97 L25.00,252.97 L25.30,252.97 L25.60,252.97 L25.90,252.97 L26.20,252.97 L26.50,252.97 L26.80,252.97 L27.10,252.97 L27.40,252.97 L27.70,252.97 L28.00,252.97 L28.30,252.98 L28.60,252.98 L28.90,252.98 L29.20,252.98 L29.50,252.98 L29.80,252.98 L30.10,252.98 L30.40,252.98 L30.70,252.98 L31.00,252.98 L31.30,252.98 L31.60,252.98 L31.90,252.98 L32.20,252.98 L32.50,252.98 L32.80,252.98 L33.10,252.98 L33.40,252.98 L33.70,252.98 L34.00,252.98 L34.30,252.98 L34.60,252.98 L34.90,252.98 L35.20,252.98 L35.50,252.98 L35.80,252.98 L36.10,252.98 L36.40,252.98 L36.70,252.98 L37.00,252.98 L37.30,252.98 L37.60,252.98 L37.90,252.98 L38.20,252.98 L38.50,252.98 L38.80,252.98 L39.10,252.98 L39.40,252.98 L39.70,252.98 L40.00,252.98 L40.30,252.98 L40.60,252.98 L40.90,252.98 L41.20,252.98 L41.50,252.98 L41.80,252.98 L42.10,252.98 L42.40,252.98 L42.70,252.98 L43.00,252.98 L43.30,252.97 L43.60,252.97 L43.90,252.97 L44.20,252.97 L44.50,252.97 L44.80,252.97 L45.10,252.97 L45.40,252.97 L45.70,252.97 L46.00,252.97 L46.30,252.97 L46.60,252.96 L46.90,252.96 L47.20,252.96 L47.50,252.96 L47.80,252.96 L48.10,252.96 L48.40,252.96 L48.70,252.95 L49.00,252.95 L49.30,252.95 L49.60,252.95 L49.90,252.95 L50.20,252.95 L50.50,252.94 L50.80,252.94 L51.10,252.94 L51.40,252.94 L51.70,252.93 L52.00,252.93 L52.30,252.93 L52.60,252.93 L52.90,252.92 L53.20,252.92 L53.50,252.92 L53.80,252.91 L54.10,252.91 L54.40,252.91 L54.70,252.90 L55.00,252.90 L55.30,252.90 L55.60,252.89 L55.90,252.89 L56.20,252.88 L56.50,252.88 L56.80,252.87 L57.10,252.87 L57.40,252.86 L57.70,252.86 L58.00,252.85 L58.30,252.85 L58.60,252.84 L58.90,252.83 L59.20,252.83 L59.50,252.82 L59.80,252.81 L60.10,252.81 L60.40,252.80 L60.70,252.79 L61.00,252.78 L61.30,252.77 L61.60,252.76 L61.90,252.75 L62.20,252.74 L62.50,252.73 L62.80,252.72 L63.10,252.71 L63.40,252.70 L63.70,252.69 L64.00,252.67 L64.30,252.66 L64.60,252.64 L64.90,252.63 L65.20,252.61 L65.50,252.59 L65.80,252.57 L66.10,252.55 L66.40,252.53 L66.70,252.51 L67.00,252.48 L67.30,252.46 L67.60,252.43 L67.90,252.40 L68.20,252.36 L68.50,252.33 L68.80,252.29 L69.10,252.24 L69.40,252.19 L69.70,252.14 L70.00,252.09 L70.30,252.04 L70.60,251.98 L70.90,251.92 L71.20,251.85 L71.50,251.77 L71.80,251.69 L72.10,251.59 L72.40,251.49 L72.70,251.38 L73.00,251.26 L73.30,251.12 L73.60,250.98 L73.90,250.82 L74.20,250.65 L74.50,250.46 L74.80,250.26 L75.10,250.05 L75.40,249.82 L75.70,249.58 L76.00,249.32 L76.30,249.05 L76.60,248.77 L76.90,248.47 L77.20,248.15 L77.50,247.83 L77.80,247.49 L78.10,247.15 L78.40,246.79 L78.70,246.43 L79.00,246.07 L79.30,245.70 L79.60,245.34 L79.90,244.98 L80.20,244.65 L80.50,244.34 L80.80,244.05 L81.10,243.78 L81.40,243.54 L81.70,243.34 L82.00,243.17 L82.30,243.05 L82.60,242.97 L82.90,242.95 L83.20,242.98 L83.50,243.05 L83.80,243.18 L84.10,243.36 L84.40,243.58 L84.70,243.84 L85.00,244.14 L85.30,244.47 L85.60,244.82 L85.90,245.20 L86.20,245.61 L86.50,246.05 L86.80,246.49 L87.10,246.93 L87.40,247.38 L87.70,247.82 L88.00,248.25 L88.30,248.68 L88.60,249.10 L88.90,249.51 L89.20,249.90 L89.50,250.29 L89.80,250.66 L90.10,251.01 L90.40,251.36 L90.70,251.69 L91.00,252.00 L91.30,252.30 L91.60,252.59 L91.90,252.86 L92.20,253.11 L92.50,253.36 L92.80,253.59 L93.10,253.81 L93.40,253.99 L93.70,254.17 L94.00,254.34 L94.30,254.50 L94.60,254.65 L94.90,254.79 L95.20,254.92 L95.50,255.05 L95.80,255.17 L96.10,255.28 L96.40,255.39 L96.70,255.49 L97.00,255.57 L97.30,255.64 L97.60,255.71 L97.90,255.78 L98.20,255.84 L98.50,255.90 L98.80,255.96 L99.10,256.02 L99.40,256.07 L99.70,256.12 L100.00,256.17 L100.30,256.22 L100.60,256.27 L100.90,256.32 L101.20,256.37 L101.50,256.41 L101.80,256.46 L102.10,256.49 L102.40,256.51 L102.70,256.52 L103.00,256.53 L103.30,256.55 L103.60,256.56 L103.90,256.57 L104.20,256.59 L104.50,256.60 L104.80,256.61 L105.10,256.62 L105.40,256.63 L105.70,256.64 L106.00,256.65 L106.30,256.66 L106.60,256.67 L106.90,256.68 L107.20,256.68 L107.50,256.69 L107.80,256.70 L108.10,256.71 L108.40,256.71 L108.70,256.72 L109.00,256.73 L109.30,256.74 L109.60,256.74 L109.90,256.75 L110.20,256.75 L110.50,256.76 L110.80,256.77 L111.10,256.77 L111.40,256.78 L111.70,256.78 L112.00,256.79 L112.30,256.79 L112.60,256.80 L112.90,256.80 L113.20,256.81 L113.50,256.81 L113.80,256.82 L114.10,256.82 L114.40,256.83 L114.70,256.83 L115.00,256.83 L115.30,256.84 L115.60,256.84 L115.90,256.85 L116.20,256.85 L116.50,256.85 L116.80,256.86 L117.10,256.86 L117.40,256.86 L117.70,256.87 L118.00,256.87 L118.30,256.87 L118.60,256.88 L118.90,256.88 L119.20,256.88 L119.50,256.89 L119.80,256.89 L120.10,256.89 L120.40,256.89 L120.70,256.90 L121.00,256.90 L121.30,256.90 L121.60,256.90 L121.90,256.91 L122.20,256.91 L122.50,256.91 L122.80,256.91 L123.10,256.92 L123.40,256.92 L123.70,256.92 L124.00,256.92 L124.30,256.93 L124.60,256.93 L124.90,256.93 L125.20,256.93 L125.50,256.93 L125.80,256.94 L126.10,256.94 L126.40,256.94 L126.70,256.94 L127.00,256.94 L127.30,256.95 L127.60,256.95 L127.90,256.95 L128.20,256.95 L128.50,256.95 L128.80,256.96 L129.10,256.96 L129.40,256.96 L129.70,256.96 L130.00,256.96 L130.30,256.96 L130.60,256.97 L130.90,256.97 L131.20,256.97 L131.50,256.97 L131.80,256.97 L132.10,256.97 L132.40,256.98 L132.70,256.98 L133.00,256.98 L133.30,256.98 L133.60,256.98 L133.90,256.98 L134.20,256.98 L134.50,256.99 L134.80,256.99 L135.10,256.99 L135.40,256.99 L135.70,256.99 L136.00,256.99 L136.30,256.99 L136.60,257.00 L136.90,257.00 L137.20,257.00 L137.50,257.00 L137.80,257.00 L138.10,257.00 L138.40,257.00 L138.70,257.00 L139.00,257.01 L139.30,257.01 L139.60,257.01 L139.90,257.01 L140.20,257.01 L140.50,257.01 L140.80,257.01 L141.10,257.01 L141.40,257.02 L141.70,257.02 L142.00,257.02 L142.30,257.02 L142.60,257.02 L142.90,257.02 L143.20,257.02 L143.50,257.02 L143.80,257.02 L144.10,257.03 L144.40,257.03 L144.70,257.03 L145.00,257.03 L145.30,257.03 L145.60,257.03 L145.90,257.03 L146.20,257.03 L146.50,257.03 L146.80,257.03 L147.10,257.04 L147.40,257.04 L147.70,257.04 L148.00,257.04 L148.30,257.04 L148.60,257.04 L148.90,257.04 L149.20,257.04 L149.50,257.04 L149.80,257.04 L150.10,257.05 L150.40,257.05 L150.70,257.05 L151.00,257.05 L151.30,257.05 L151.60,257.05 L151.90,257.05 L152.20,257.05 L152.50,257.05 L152.80,257.05 L153.10,257.06 L153.40,257.06 L153.70,257.06 L154.00,257.06 L154.30,257.06 L154.60,257.06 L154.90,257.06 L155.20,257.06" fill="none" stroke="#a23ad6" stroke-width="1.3"/>
<path d="M17.50,253.00 L17.80,253.00 L18.10,253.00 L18.40,253.00 L18.70,253.00 L19.00,253.01 L19.30,253.01 L19.60,253.01 L19.90,253.01 L20.20,253.01 L20.50,253.01 L20.80,253.01 L21.10,253.01 L21.40,253.01 L21.70,253.02 L22.00,253.02 L22.30,253.02 L22.60,253.02 L22.90,253.02 L23.20,253.02 L23.50,253.02 L23.80,253.02 L24.10,253.03 L24.40,253.03 L24.70,253.03 L25.00,253.03 L25.30,253.03 L25.60,253.03 L25.90,253.03 L26.20,253.03 L26.50,253.03 L26.80,253.04 L27.10,253.04 L27.40,253.04 L27.70,253.04 L28.00,253.04 L28.30,253.04 L28.60,253.04 L28.90,253.04 L29.20,253.04 L29.50,253.05 L29.80,253.05 L30.10,253.05 L30.40,253.05 L30.70,253.05 L31.00,253.05 L31.30,253.05 L31.60,253.05 L31.90,253.05 L32.20,253.06 L32.50,253.06 L32.80,253.06 L33.10,253.06 L33.40,253.06 L33.70,253.06 L34.00,253.06 L34.30,253.06 L34.60,253.07 L34.90,253.07 L35.20,253.07 L35.50,253.07 L35.80,253.07 L36.10,253.07 L36.40,253.07 L36.70,253.07 L37.00,253.07 L37.30,253.08 L37.60,253.08 L37.90,253.08 L38.20,253.08 L38.50,253.08 L38.80,253.08 L39.10,253.08 L39.40,253.08 L39.70,253.08 L40.00,253.09 L40.30,253.09 L40.60,253.09 L40.90,253.09 L41.20,253.09 L41.50,253.09 L41.80,253.09 L42.10,253.09 L42.40,253.09 L42.70,253.10 L43.00,253.10 L43.30,253.10 L43.60,253.10 L43.90,253.10 L44.20,253.10 L44.50,253.10 L44.80,253.10 L45.10,253.11 L45.40,253.11 L45.70,253.11 L46.00,253.11 L46.30,253.11 L46.60,253.11 L46.90,253.11 L47.20,253.11 L47.50,253.11 L47.80,253.12 L48.10,253.12 L48.40,253.12 L48.70,253.12 L49.00,253.12 L49.30,253.12 L49.60,253.12 L49.90,253.12 L50.20,253.12 L50.50,253.13 L50.80,253.13 L51.10,253.13 L51.40,253.13 L51.70,253.13 L52.00,253.13 L52.30,253.13 L52.60,253.13 L52.90,253.13 L53.20,253.14 L53.50,253.14 L53.80,253.14 L54.10,253.14 L54.40,253.14 L54.70,253.14 L55.00,253.14 L55.30,253.14 L55.60,253.15 L55.90,253.15 L56.20,253.15 L56.50,253.15 L56.80,253.15 L57.10,253.15 L57.40,253.15 L57.70,253.15 L58.00,253.15 L58.30,253.16 L58.60,253.16 L58.90,253.16 L59.20,253.16 L59.50,253.16 L59.80,253.16 L60.10,253.16 L60.40,253.16 L60.70,253.16 L61.00,253.17 L61.30,253.17 L61.60,253.17 L61.90,253.17 L62.20,253.17 L62.50,253.17 L62.80,253.17 L63.10,253.17 L63.40,253.17 L63.70,253.18 L64.00,253.18 L64.30,253.18 L64.60,253.18 L64.90,253.18 L65.20,253.18 L65.50,253.18 L65.80,253.18 L66.10,253.19 L66.40,253.19 L66.70,253.19 L67.00,253.19 L67.30,253.19 L67.60,253.19 L67.90,253.19 L68.20,253.19 L68.50,253.19 L68.80,253.20 L69.10,253.20 L69.40,253.20 L69.70,253.20 L70.00,253.20 L70.30,253.21 L70.60,253.22 L70.90,253.24 L71.20,253.25 L71.50,253.26 L71.80,253.27 L72.10,253.28 L72.40,253.30 L72.70,253.31 L73.00,253.32 L73.30,253.33 L73.60,253.34 L73.90,253.36 L74.20,253.37 L74.50,253.38 L74.80,253.39 L75.10,253.40 L75.40,253.42 L75.70,253.43 L76.00,253.44 L76.30,253.45 L76.60,253.46 L76.90,253.48 L77.20,253.49 L77.50,253.50 L77.80,253.51 L78.10,253.52 L78.40,253.54 L78.70,253.55 L79.00,253.56 L79.30,253.57 L79.60,253.58 L79.90,253.60 L80.20,253.62 L80.50,253.66 L80.80,253.69 L81.10,253.73 L81.40,253.76 L81.70,253.80 L82.00,253.83 L82.30,253.87 L82.60,253.90 L82.90,253.94 L83.20,253.97 L83.50,254.01 L83.80,254.04 L84.10,254.08 L84.40,254.11 L84.70,254.15 L85.00,254.18 L85.30,254.22 L85.60,254.25 L85.90,254.29 L86.20,254.34 L86.50,254.41 L86.80,254.48 L87.10,254.55 L87.40,254.62 L87.70,254.68 L88.00,254.75 L88.30,254.82 L88.60,254.88 L88.90,254.95 L89.20,255.02 L89.50,255.09 L89.80,255.16 L90.10,255.22 L90.40,255.29 L90.70,255.36 L91.00,255.43 L91.30,255.50 L91.60,255.57 L91.90,255.64 L92.20,255.71 L92.50,255.78 L92.80,255.85 L93.10,255.92 L93.40,255.97 L93.70,256.02 L94.00,256.07 L94.30,256.12 L94.60,256.17 L94.90,256.22 L95.20,256.27 L95.50,256.32 L95.80,256.37 L96.10,256.42 L96.40,256.47 L96.70,256.51 L97.00,256.54 L97.30,256.56 L97.60,256.59 L97.90,256.62 L98.20,256.65 L98.50,256.68 L98.80,256.70 L99.10,256.73 L99.40,256.76 L99.70,256.79 L100.00,256.81 L100.30,256.84 L100.60,256.87 L100.90,256.90 L101.20,256.93 L101.50,256.95 L101.80,256.98 L102.10,257.00 L102.40,257.00 L102.70,257.00 L103.00,257.00 L103.30,257.00 L103.60,257.00 L103.90,257.00 L104.20,257.00 L104.50,257.00 L104.80,257.01 L105.10,257.01 L105.40,257.01 L105.70,257.01 L106.00,257.01 L106.30,257.01 L106.60,257.01 L106.90,257.01 L107.20,257.01 L107.50,257.01 L107.80,257.01 L108.10,257.01 L108.40,257.01 L108.70,257.01 L109.00,257.01 L109.30,257.01 L109.60,257.01 L109.90,257.01 L110.20,257.02 L110.50,257.02 L110.80,257.02 L111.10,257.02 L111.40,257.02 L111.70,257.02 L112.00,257.02 L112.30,257.02 L112.60,257.02 L112.90,257.02 L113.20,257.02 L113.50,257.02 L113.80,257.02 L114.10,257.02 L114.40,257.02 L114.70,257.02 L115.00,257.02 L115.30,257.02 L115.60,257.03 L115.90,257.03 L116.20,257.03 L116.50,257.03 L116.80,257.03 L117.10,257.03 L117.40,257.03 L117.70,257.03 L118.00,257.03 L118.30,257.03 L118.60,257.03 L118.90,257.03 L119.20,257.03 L119.50,257.03 L119.80,257.03 L120.10,257.03 L120.40,257.03 L120.70,257.04 L121.00,257.04 L121.30,257.04 L121.60,257.04 L121.90,257.04 L122.20,257.04 L122.50,257.04 L122.80,257.04 L123.10,257.04 L123.40,257.04 L123.70,257.04 L124.00,257.04 L124.30,257.04 L124.60,257.04 L124.90,257.04 L125.20,257.04 L125.50,257.04 L125.80,257.04 L126.10,257.05 L126.40,257.05 L126.70,257.05 L127.00,257.05 L127.30,257.05 L127.60,257.05 L127.90,257.05 L128.20,257.05 L128.50,257.05 L128.80,257.05 L129.10,257.05 L129.40,257.05 L129.70,257.05 L130.00,257.05 L130.30,257.05 L130.60,257.05 L130.90,257.05 L131.20,257.05 L131.50,257.06 L131.80,257.06 L132.10,257.06 L132.40,257.06 L132.70,257.06 L133.00,257.06 L133.30,257.06 L133.60,257.06 L133.90,257.06 L134.20,257.06 L134.50,257.06 L134.80,257.06 L135.10,257.06 L135.40,257.06 L135.70,257.06 L136.00,257.06 L136.30,257.06 L136.60,257.06 L136.90,257.07 L137.20,257.07 L137.50,257.07 L137.80,257.07 L138.10,257.07 L138.40,257.07 L138.70,257.07 L139.00,257.07 L139.30,257.07 L139.60,257.07 L139.90,257.07 L140.20,257.07 L140.50,257.07 L140.80,257.07 L141.10,257.07 L141.40,257.07 L141.70,257.07 L142.00,257.07 L142.30,257.08 L142.60,257.08 L142.90,257.08 L143.20,257.08 L143.50,257.08 L143.80,257.08 L144.10,257.08 L144.40,257.08 L144.70,257.08 L145.00,257.08 L145.30,257.08 L145.60,257.08 L145.90,257.08 L146.20,257.08 L146.50,257.08 L146.80,257.08 L147.10,257.08 L147.40,257.09 L147.70,257.09 L148.00,257.09 L148.30,257.09 L148.60,257.09 L148.90,257.09 L149.20,257.09 L149.50,257.09 L149.80,257.09 L150.10,257.09 L150.40,257.09 L150.70,257.09 L151.00,257.09 L151.30,257.09 L151.60,257.09 L151.90,257.09 L152.20,257.09 L152.50,257.09 L152.80,257.10 L153.10,257.10 L153.40,257.10 L153.70,257.10 L154.00,257.10 L154.30,257.10 L154.60,257.10 L154.90,257.10 L155.20,257.10" fill="none" stroke="#5b7a1c" stroke-width="1.3"/>
<path d="M17.50,252.33 L17.80,252.32 L18.10,252.30 L18.40,252.29 L18.70,252.28 L19.00,252.26 L19.30,252.25 L19.60,252.24 L19.90,252.22 L20.20,252.21 L20.50,252.19 L20.80,252.18 L21.10,252.16 L21.40,252.15 L21.70,252.13 L22.00,252.11 L22.30,252.10 L22.60,252.08 L22.90,252.07 L23.20,252.05 L23.50,252.03 L23.80,252.01 L24.10,252.00 L24.40,251.98 L24.70,251.96 L25.00,251.94 L25.30,251.92 L25.60,251.91 L25.90,251.89 L26.20,251.87 L26.50,251.85 L26.80,251.83 L27.10,251.81 L27.40,251.79 L27.70,251.77 L28.00,251.75 L28.30,251.73 L28.60,251.71 L28.90,251.69 L29.20,251.67 L29.50,251.65 L29.80,251.62 L30.10,251.60 L30.40,251.58 L30.70,251.56 L31.00,251.54 L31.30,251.51 L31.60,251.49 L31.90,251.47 L32.20,251.45 L32.50,251.42 L32.80,251.40 L33.10,251.38 L33.40,251.35 L33.70,251.33 L34.00,251.31 L34.30,251.28 L34.60,251.26 L34.90,251.24 L35.20,251.21 L35.50,251.19 L35.80,251.16 L36.10,251.14 L36.40,251.12 L36.70,251.09 L37.00,251.07 L37.30,251.04 L37.60,251.02 L37.90,250.99 L38.20,250.97 L38.50,250.94 L38.80,250.92 L39.10,250.89 L39.40,250.87 L39.70,250.84 L40.00,250.82 L40.30,250.79 L40.60,250.77 L40.90,250.75 L41.20,250.72 L41.50,250.70 L41.80,250.67 L42.10,250.65 L42.40,250.62 L42.70,250.60 L43.00,250.57 L43.30,250.55 L43.60,250.52 L43.90,250.50 L44.20,250.48 L44.50,250.45 L44.80,250.43 L45.10,250.40 L45.40,250.38 L45.70,250.36 L46.00,250.33 L46.30,250.31 L46.60,250.28 L46.90,250.26 L47.20,250.24 L47.50,250.22 L47.80,250.19 L48.10,250.17 L48.40,250.15 L48.70,250.12 L49.00,250.10 L49.30,250.08 L49.60,250.06 L49.90,250.04 L50.20,250.01 L50.50,249.99 L50.80,249.97 L51.10,249.95 L51.40,249.93 L51.70,249.91 L52.00,249.89 L52.30,249.87 L52.60,249.85 L52.90,249.83 L53.20,249.80 L53.50,249.78 L53.80,249.76 L54.10,249.74 L54.40,249.72 L54.70,249.71 L55.00,249.69 L55.30,249.67 L55.60,249.65 L55.90,249.63 L56.20,249.61 L56.50,249.59 L56.80,249.57 L57.10,249.55 L57.40,249.53 L57.70,249.51 L58.00,249.49 L58.30,249.47 L58.60,249.45 L58.90,249.43 L59.20,249.41 L59.50,249.39 L59.80,249.38 L60.10,249.36 L60.40,249.33 L60.70,249.31 L61.00,249.29 L61.30,249.27 L61.60,249.25 L61.90,249.23 L62.20,249.21 L62.50,249.18 L62.80,249.16 L63.10,249.14 L63.40,249.11 L63.70,249.09 L64.00,249.06 L64.30,249.04 L64.60,249.01 L64.90,248.98 L65.20,248.95 L65.50,248.92 L65.80,248.89 L66.10,248.86 L66.40,248.82 L66.70,248.79 L67.00,248.75 L67.30,248.71 L67.60,248.67 L67.90,248.63 L68.20,248.58 L68.50,248.53 L68.80,248.48 L69.10,248.43 L69.40,248.38 L69.70,248.32 L70.00,248.26 L70.30,248.20 L70.60,248.15 L70.90,248.08 L71.20,248.02 L71.50,247.95 L71.80,247.87 L72.10,247.79 L72.40,247.70 L72.70,247.61 L73.00,247.51 L73.30,247.40 L73.60,247.28 L73.90,247.15 L74.20,247.02 L74.50,246.87 L74.80,246.72 L75.10,246.55 L75.40,246.37 L75.70,246.17 L76.00,245.96 L76.30,245.73 L76.60,245.48 L76.90,245.21 L77.20,244.92 L77.50,244.60 L77.80,244.26 L78.10,243.89 L78.40,243.48 L78.70,243.04 L79.00,242.56 L79.30,242.03 L79.60,241.46 L79.90,240.83 L80.20,240.15 L80.50,239.42 L80.80,238.61 L81.10,237.71 L81.40,236.72 L81.70,235.62 L82.00,234.41 L82.30,233.06 L82.60,231.57 L82.90,229.93 L83.20,228.13 L83.50,226.16 L83.80,224.02 L84.10,221.70 L84.40,219.22 L84.70,216.59 L85.00,213.84 L85.30,210.98 L85.60,208.04 L85.90,205.05 L86.20,202.05 L86.50,199.05 L86.80,196.07 L87.10,193.11 L87.40,190.21 L87.70,187.40 L88.00,184.72 L88.30,182.23 L88.60,180.01 L88.90,178.16 L89.20,176.78 L89.50,175.97 L89.80,175.84 L90.10,176.44 L90.40,177.82 L90.70,179.94 L91.00,182.75 L91.30,186.15 L91.60,190.04 L91.90,194.27 L92.20,198.73 L92.50,203.30 L92.80,207.88 L93.10,212.37 L93.40,216.69 L93.70,220.79 L94.00,224.63 L94.30,228.17 L94.60,231.40 L94.90,234.31 L95.20,236.91 L95.50,239.20 L95.80,241.20 L96.10,242.94 L96.40,244.44 L96.70,245.71 L97.00,246.79 L97.30,247.71 L97.60,248.49 L97.90,249.16 L98.20,249.73 L98.50,250.22 L98.80,250.65 L99.10,251.03 L99.40,251.36 L99.70,251.66 L100.00,251.93 L100.30,252.18 L100.60,252.41 L100.90,252.62 L101.20,252.82 L101.50,253.01 L101.80,253.18 L102.10,253.34 L102.40,253.47 L102.70,253.60 L103.00,253.72 L103.30,253.83 L103.60,253.94 L103.90,254.04 L104.20,254.14 L104.50,254.23 L104.80,254.32 L105.10,254.40 L105.40,254.48 L105.70,254.56 L106.00,254.64 L106.30,254.71 L106.60,254.77 L106.90,254.84 L107.20,254.90 L107.50,254.96 L107.80,255.02 L108.10,255.08 L108.40,255.13 L108.70,255.18 L109.00,255.23 L109.30,255.28 L109.60,255.33 L109.90,255.37 L110.20,255.41 L110.50,255.46 L110.80,255.50 L111.10,255.53 L111.40,255.57 L111.70,255.61 L112.00,255.64 L112.30,255.68 L112.60,255.71 L112.90,255.74 L113.20,255.77 L113.50,255.80 L113.80,255.83 L114.10,255.86 L114.40,255.89 L114.70,255.91 L115.00,255.94 L115.30,255.97 L115.60,255.99 L115.90,256.01 L116.20,256.04 L116.50,256.06 L116.80,256.08 L117.10,256.10 L117.40,256.12 L117.70,256.14 L118.00,256.16 L118.30,256.18 L118.60,256.20 L118.90,256.22 L119.20,256.23 L119.50,256.25 L119.80,256.27 L120.10,256.28 L120.40,256.30 L120.70,256.31 L121.00,256.33 L121.30,256.34 L121.60,256.36 L121.90,256.37 L122.20,256.38 L122.50,256.40 L122.80,256.41 L123.10,256.42 L123.40,256.43 L123.70,256.44 L124.00,256.46 L124.30,256.47 L124.60,256.48 L124.90,256.49 L125.20,256.50 L125.50,256.51 L125.80,256.52 L126.10,256.53 L126.40,256.54 L126.70,256.55 L127.00,256.56 L127.30,256.57 L127.60,256.57 L127.90,256.58 L128.20,256.59 L128.50,256.60 L128.80,256.61 L129.10,256.61 L129.40,256.62 L129.70,256.63 L130.00,256.64 L130.30,256.64 L130.60,256.65 L130.90,256.66 L131.20,256.66 L131.50,256.67 L131.80,256.68 L132.10,256.68 L132.40,256.69 L132.70,256.70 L133.00,256.70 L133.30,256.71 L133.60,256.71 L133.90,256.72 L134.20,256.72 L134.50,256.73 L134.80,256.73 L135.10,256.74 L135.40,256.74 L135.70,256.75 L136.00,256.75 L136.30,256.76 L136.60,256.76 L136.90,256.77 L137.20,256.77 L137.50,256.78 L137.80,256.78 L138.10,256.79 L138.40,256.79 L138.70,256.79 L139.00,256.80 L139.30,256.80 L139.60,256.81 L139.90,256.81 L140.20,256.81 L140.50,256.82 L140.80,256.82 L141.10,256.82 L141.40,256.83 L141.70,256.83 L142.00,256.83 L142.30,256.84 L142.60,256.84 L142.90,256.84 L143.20,256.85 L143.50,256.85 L143.80,256.85 L144.10,256.86 L144.40,256.86 L144.70,256.86 L145.00,256.87 L145.30,256.87 L145.60,256.87 L145.90,256.87 L146.20,256.88 L146.50,256.88 L146.80,256.88 L147.10,256.89 L147.40,256.89 L147.70,256.89 L148.00,256.89 L148.30,256.90 L148.60,256.90 L148.90,256.90 L149.20,256.90 L149.50,256.91 L149.80,256.91 L150.10,256.91 L150.40,256.91 L150.70,256.91 L151.00,256.92 L151.30,256.92 L151.60,256.92 L151.90,256.92 L152.20,256.93 L152.50,256.93 L152.80,256.93 L153.10,256.93 L153.40,256.93 L153.70,256.94 L154.00,256.94 L154.30,256.94 L154.60,256.94 L154.90,256.94 L155.20,256.95" fill="none" stroke="#ee1c2e" stroke-width="1.4"/>
<path d="M17.50,252.92 L17.80,252.92 L18.10,252.92 L18.40,252.92 L18.70,252.92 L19.00,252.92 L19.30,252.92 L19.60,252.92 L19.90,252.92 L20.20,252.92 L20.50,252.92 L20.80,252.92 L21.10,252.92 L21.40,252.92 L21.70,252.92 L22.00,252.92 L22.30,252.92 L22.60,252.92 L22.90,252.92 L23.20,252.92 L23.50,252.92 L23.80,252.92 L24.10,252.92 L24.40,252.92 L24.70,252.92 L25.00,252.92 L25.30,252.92 L25.60,252.92 L25.90,252.92 L26.20,252.92 L26.50,252.92 L26.80,252.92 L27.10,252.92 L27.40,252.92 L27.70,252.92 L28.00,252.92 L28.30,252.92 L28.60,252.92 L28.90,252.92 L29.20,252.92 L29.50,252.92 L29.80,252.92 L30.10,252.92 L30.40,252.92 L30.70,252.92 L31.00,252.92 L31.30,252.92 L31.60,252.92 L31.90,252.92 L32.20,252.92 L32.50,252.92 L32.80,252.92 L33.10,252.92 L33.40,252.92 L33.70,252.92 L34.00,252.92 L34.30,252.92 L34.60,252.92 L34.90,252.92 L35.20,252.92 L35.50,252.92 L35.80,252.92 L36.10,252.92 L36.40,252.92 L36.70,252.92 L37.00,252.91 L37.30,252.91 L37.60,252.91 L37.90,252.91 L38.20,252.91 L38.50,252.91 L38.80,252.91 L39.10,252.91 L39.40,252.91 L39.70,252.91 L40.00,252.91 L40.30,252.91 L40.60,252.90 L40.90,252.90 L41.20,252.90 L41.50,252.90 L41.80,252.90 L42.10,252.90 L42.40,252.90 L42.70,252.90 L43.00,252.89 L43.30,252.89 L43.60,252.89 L43.90,252.89 L44.20,252.89 L44.50,252.89 L44.80,252.88 L45.10,252.88 L45.40,252.88 L45.70,252.88 L46.00,252.88 L46.30,252.87 L46.60,252.87 L46.90,252.87 L47.20,252.87 L47.50,252.87 L47.80,252.86 L48.10,252.86 L48.40,252.86 L48.70,252.86 L49.00,252.85 L49.30,252.85 L49.60,252.85 L49.90,252.84 L50.20,252.84 L50.50,252.84 L50.80,252.83 L51.10,252.83 L51.40,252.83 L51.70,252.82 L52.00,252.82 L52.30,252.82 L52.60,252.81 L52.90,252.81 L53.20,252.80 L53.50,252.80 L53.80,252.79 L54.10,252.79 L54.40,252.78 L54.70,252.78 L55.00,252.77 L55.30,252.77 L55.60,252.76 L55.90,252.76 L56.20,252.75 L56.50,252.75 L56.80,252.74 L57.10,252.73 L57.40,252.73 L57.70,252.72 L58.00,252.71 L58.30,252.71 L58.60,252.70 L58.90,252.69 L59.20,252.68 L59.50,252.67 L59.80,252.67 L60.10,252.66 L60.40,252.65 L60.70,252.64 L61.00,252.63 L61.30,252.62 L61.60,252.61 L61.90,252.60 L62.20,252.59 L62.50,252.57 L62.80,252.56 L63.10,252.55 L63.40,252.54 L63.70,252.52 L64.00,252.51 L64.30,252.49 L64.60,252.48 L64.90,252.46 L65.20,252.45 L65.50,252.43 L65.80,252.41 L66.10,252.39 L66.40,252.37 L66.70,252.35 L67.00,252.33 L67.30,252.31 L67.60,252.29 L67.90,252.27 L68.20,252.24 L68.50,252.22 L68.80,252.19 L69.10,252.16 L69.40,252.13 L69.70,252.10 L70.00,252.07 L70.30,252.05 L70.60,252.02 L70.90,252.00 L71.20,251.97 L71.50,251.94 L71.80,251.91 L72.10,251.87 L72.40,251.84 L72.70,251.80 L73.00,251.76 L73.30,251.71 L73.60,251.67 L73.90,251.62 L74.20,251.56 L74.50,251.51 L74.80,251.44 L75.10,251.38 L75.40,251.31 L75.70,251.23 L76.00,251.15 L76.30,251.06 L76.60,250.97 L76.90,250.86 L77.20,250.75 L77.50,250.63 L77.80,250.50 L78.10,250.35 L78.40,250.18 L78.70,250.00 L79.00,249.80 L79.30,249.56 L79.60,249.30 L79.90,249.00 L80.20,248.66 L80.50,248.28 L80.80,247.83 L81.10,247.31 L81.40,246.69 L81.70,245.96 L82.00,245.11 L82.30,244.12 L82.60,242.96 L82.90,241.63 L83.20,240.09 L83.50,238.34 L83.80,236.35 L84.10,234.11 L84.40,231.61 L84.70,228.84 L85.00,225.82 L85.30,222.53 L85.60,219.00 L85.90,215.26 L86.20,211.35 L86.50,207.33 L86.80,203.23 L87.10,199.13 L87.40,195.13 L87.70,191.32 L88.00,187.85 L88.30,184.82 L88.60,182.38 L88.90,180.65 L89.20,179.71 L89.50,179.64 L89.80,180.42 L90.10,182.04 L90.40,184.39 L90.70,187.37 L91.00,190.85 L91.30,194.70 L91.60,198.78 L91.90,203.00 L92.20,207.24 L92.50,211.44 L92.80,215.52 L93.10,219.43 L93.40,223.12 L93.70,226.57 L94.00,229.77 L94.30,232.71 L94.60,235.38 L94.90,237.79 L95.20,239.95 L95.50,241.86 L95.80,243.56 L96.10,245.04 L96.40,246.34 L96.70,247.46 L97.00,248.42 L97.30,249.25 L97.60,249.96 L97.90,250.58 L98.20,251.12 L98.50,251.58 L98.80,251.99 L99.10,252.35 L99.40,252.66 L99.70,252.95 L100.00,253.20 L100.30,253.43 L100.60,253.64 L100.90,253.83 L101.20,254.01 L101.50,254.17 L101.80,254.33 L102.10,254.47 L102.40,254.58 L102.70,254.68 L103.00,254.78 L103.30,254.87 L103.60,254.95 L103.90,255.03 L104.20,255.11 L104.50,255.18 L104.80,255.24 L105.10,255.31 L105.40,255.37 L105.70,255.43 L106.00,255.48 L106.30,255.53 L106.60,255.58 L106.90,255.63 L107.20,255.67 L107.50,255.72 L107.80,255.76 L108.10,255.80 L108.40,255.83 L108.70,255.87 L109.00,255.90 L109.30,255.94 L109.60,255.97 L109.90,256.00 L110.20,256.03 L110.50,256.05 L110.80,256.08 L111.10,256.11 L111.40,256.13 L111.70,256.16 L112.00,256.18 L112.30,256.20 L112.60,256.22 L112.90,256.24 L113.20,256.26 L113.50,256.28 L113.80,256.30 L114.10,256.32 L114.40,256.33 L114.70,256.35 L115.00,256.37 L115.30,256.38 L115.60,256.40 L115.90,256.41 L116.20,256.42 L116.50,256.44 L116.80,256.45 L117.10,256.46 L117.40,256.48 L117.70,256.49 L118.00,256.50 L118.30,256.51 L118.60,256.52 L118.90,256.53 L119.20,256.54 L119.50,256.55 L119.80,256.56 L120.10,256.57 L120.40,256.58 L120.70,256.59 L121.00,256.60 L121.30,256.61 L121.60,256.62 L121.90,256.63 L122.20,256.63 L122.50,256.64 L122.80,256.65 L123.10,256.66 L123.40,256.66 L123.70,256.67 L124.00,256.68 L124.30,256.68 L124.60,256.69 L124.90,256.70 L125.20,256.70 L125.50,256.71 L125.80,256.72 L126.10,256.72 L126.40,256.73 L126.70,256.73 L127.00,256.74 L127.30,256.74 L127.60,256.75 L127.90,256.75 L128.20,256.76 L128.50,256.76 L128.80,256.77 L129.10,256.77 L129.40,256.78 L129.70,256.78 L130.00,256.79 L130.30,256.79 L130.60,256.80 L130.90,256.80 L131.20,256.80 L131.50,256.81 L131.80,256.81 L132.10,256.82 L132.40,256.82 L132.70,256.82 L133.00,256.83 L133.30,256.83 L133.60,256.84 L133.90,256.84 L134.20,256.84 L134.50,256.85 L134.80,256.85 L135.10,256.85 L135.40,256.86 L135.70,256.86 L136.00,256.86 L136.30,256.87 L136.60,256.87 L136.90,256.87 L137.20,256.87 L137.50,256.88 L137.80,256.88 L138.10,256.88 L138.40,256.89 L138.70,256.89 L139.00,256.89 L139.30,256.89 L139.60,256.90 L139.90,256.90 L140.20,256.90 L140.50,256.90 L140.80,256.91 L141.10,256.91 L141.40,256.91 L141.70,256.91 L142.00,256.92 L142.30,256.92 L142.60,256.92 L142.90,256.92 L143.20,256.93 L143.50,256.93 L143.80,256.93 L144.10,256.93 L144.40,256.93 L144.70,256.94 L145.00,256.94 L145.30,256.94 L145.60,256.94 L145.90,256.94 L146.20,256.95 L146.50,256.95 L146.80,256.95 L147.10,256.95 L147.40,256.95 L147.70,256.96 L148.00,256.96 L148.30,256.96 L148.60,256.96 L148.90,256.96 L149.20,256.97 L149.50,256.97 L149.80,256.97 L150.10,256.97 L150.40,256.97 L150.70,256.97 L151.00,256.98 L151.30,256.98 L151.60,256.98 L151.90,256.98 L152.20,256.98 L152.50,256.98 L152.80,256.99 L153.10,256.99 L153.40,256.99 L153.70,256.99 L154.00,256.99 L154.30,256.99 L154.60,257.00 L154.90,257.00 L155.20,257.00" fill="none" stroke="#1aa672" stroke-width="1.3"/>
<path d="M17.50,252.28 L18.30,252.77 L19.10,252.50 L19.90,252.88 L20.70,252.91 L21.50,252.02 L22.30,251.94 L23.10,253.26 L23.90,252.34 L24.70,252.30 L25.50,253.52 L26.30,252.69 L27.10,253.27 L27.90,252.70 L28.70,252.97 L29.50,252.19 L30.30,252.96 L31.10,253.34 L31.90,252.79 L32.70,253.14 L33.50,253.04 L34.30,252.07 L35.10,253.18 L35.90,252.92 L36.70,252.46 L37.50,252.03 L38.30,253.32 L39.10,252.58 L39.90,252.85 L40.70,252.99 L41.50,252.59 L42.30,252.79 L43.10,251.81 L43.90,252.31 L44.70,251.59 L45.50,252.22 L46.30,251.96 L47.10,250.55 L47.90,250.44 L48.70,250.39 L49.50,251.41 L50.30,250.45 L51.10,250.35 L51.90,250.00 L52.70,249.90 L53.50,249.64 L54.30,249.42 L55.10,249.32 L55.90,249.11 L56.70,249.05 L57.50,248.72 L58.30,248.68 L59.10,248.59 L59.90,248.60 L60.70,248.40 L61.50,248.10 L62.30,248.37 L63.10,248.36 L63.90,248.27 L64.70,248.03 L65.50,248.02 L66.30,247.70 L67.10,247.90 L67.90,247.66 L68.70,247.40 L69.50,247.15 L70.30,247.37 L71.10,247.28 L71.90,246.65 L72.70,246.75 L73.50,246.28 L74.30,245.81 L75.10,245.45 L75.90,245.16 L76.70,244.57 L77.50,243.39 L78.30,242.68 L79.10,241.17 L79.90,239.93 L80.70,237.80" fill="none" stroke="#151515" stroke-width="1.4" stroke-linejoin="round"/>
<path d="M90.30,176.15 L90.55,176.19 L90.80,176.74 L91.05,177.83 L91.30,179.45 L91.55,181.56 L91.80,184.12 L92.05,187.07 L92.30,190.34 L92.55,193.84 L92.80,197.52 L93.05,201.31 L93.30,205.13 L93.55,208.94 L93.80,212.67 L94.05,216.28 L94.30,219.75 L94.55,223.04 L94.80,226.14 L95.05,229.03 L95.30,231.70 L95.55,234.15 L95.80,236.38 L96.05,238.39 L96.30,240.20 L96.55,241.81 L97.30,245.00 L98.50,250.50 L100.00,254.00 L102.00,256.00 L106.00,256.90 L120.00,257.10" fill="none" stroke="#151515" stroke-width="1.2"/>
<text x="68.5" y="173" font-size="7.8" fill="#111" stroke="#111" stroke-width="0.25" text-anchor="start" >C-C/C=C</text>
<path d="M81.60,174.20 L85.82,177.30" stroke="#111" stroke-width="1.3" fill="none"/>
<path d="M88.40,179.20 L84.87,178.59 L86.77,176.02 Z" fill="#111"/>
<text x="62.5" y="234.2" font-size="7.8" fill="#111" stroke="#111" stroke-width="0.25" text-anchor="start" >C-N</text>
<path d="M75.00,235.80 L79.11,240.17" stroke="#111" stroke-width="1.3" fill="none"/>
<path d="M81.30,242.50 L77.94,241.26 L80.27,239.07 Z" fill="#111"/>
<text x="41.3" y="241.7" font-size="7.8" fill="#111" stroke="#111" stroke-width="0.25" text-anchor="start" >C=O</text>
<path d="M50.50,243.80 L54.34,247.64" stroke="#111" stroke-width="1.3" fill="none"/>
<path d="M56.60,249.90 L53.21,248.77 L55.47,246.51 Z" fill="#111"/>
<path d="M219,161.3 H352.9 V260" fill="none" stroke="#8e9797" stroke-width="1.2"/>
<path d="M219,161.3 V260" fill="none" stroke="#5a6064" stroke-width="1.5"/>
<path d="M218.3,260 H352.9" fill="none" stroke="#55609a" stroke-width="1.6"/>
<path d="M217.5,249.1 H219" stroke="#4e5458" stroke-width="0.9"/>
<path d="M217.5,236.9 H219" stroke="#4e5458" stroke-width="0.9"/>
<path d="M217.5,224.7 H219" stroke="#4e5458" stroke-width="0.9"/>
<path d="M217.5,212.5 H219" stroke="#4e5458" stroke-width="0.9"/>
<path d="M217.5,200.3 H219" stroke="#4e5458" stroke-width="0.9"/>
<path d="M217.5,188.1 H219" stroke="#4e5458" stroke-width="0.9"/>
<path d="M217.5,175.9 H219" stroke="#4e5458" stroke-width="0.9"/>
<path d="M219.00,260 V258" stroke="#4e5458" stroke-width="0.9"/>
<path d="M227.93,260 V258.8" stroke="#4e5458" stroke-width="0.9"/>
<path d="M236.86,260 V258.8" stroke="#4e5458" stroke-width="0.9"/>
<path d="M245.79,260 V258.8" stroke="#4e5458" stroke-width="0.9"/>
<path d="M254.72,260 V258.8" stroke="#4e5458" stroke-width="0.9"/>
<path d="M263.65,260 V258" stroke="#4e5458" stroke-width="0.9"/>
<path d="M272.58,260 V258.8" stroke="#4e5458" stroke-width="0.9"/>
<path d="M281.51,260 V258.8" stroke="#4e5458" stroke-width="0.9"/>
<path d="M290.44,260 V258.8" stroke="#4e5458" stroke-width="0.9"/>
<path d="M299.37,260 V258.8" stroke="#4e5458" stroke-width="0.9"/>
<path d="M308.30,260 V258" stroke="#4e5458" stroke-width="0.9"/>
<path d="M317.23,260 V258.8" stroke="#4e5458" stroke-width="0.9"/>
<path d="M326.16,260 V258.8" stroke="#4e5458" stroke-width="0.9"/>
<path d="M335.09,260 V258.8" stroke="#4e5458" stroke-width="0.9"/>
<path d="M344.02,260 V258.8" stroke="#4e5458" stroke-width="0.9"/>
<path d="M352.95,260 V258" stroke="#4e5458" stroke-width="0.9"/>
<text x="219.0" y="269.3" font-size="8" fill="#111" stroke="#111" stroke-width="0.25" text-anchor="middle" >405</text>
<text x="263.65" y="269.3" font-size="8" fill="#111" stroke="#111" stroke-width="0.25" text-anchor="middle" >400</text>
<text x="308.3" y="269.3" font-size="8" fill="#111" stroke="#111" stroke-width="0.25" text-anchor="middle" >395</text>
<text x="352.95" y="269.3" font-size="8" fill="#111" stroke="#111" stroke-width="0.25" text-anchor="middle" >390</text>
<text x="245.7" y="278.0" font-size="10.25" fill="#111" stroke="#111" stroke-width="0.25" text-anchor="start" >Binding Energy (eV)</text>
<text transform="translate(210,241.7) rotate(-90)" font-size="10.2" fill="#111" stroke="#111" stroke-width="0.25" text-anchor="start">Intensity (a.u.)</text>
<text x="224" y="173.6" font-size="11" fill="#111" stroke="#111" stroke-width="0.25" text-anchor="start" >(d)</text>
<path d="M219.00,239.40 L219.50,239.43 L220.00,239.46 L220.50,239.48 L221.00,239.51 L221.50,239.54 L222.00,239.57 L222.50,239.60 L223.00,239.63 L223.50,239.65 L224.00,239.68 L224.50,239.71 L225.00,239.74 L225.50,239.77 L226.00,239.80 L226.50,239.82 L227.00,239.85 L227.50,239.88 L228.00,239.91 L228.50,239.94 L229.00,239.96 L229.50,239.99 L230.00,240.02 L230.50,240.05 L231.00,240.08 L231.50,240.11 L232.00,240.13 L232.50,240.16 L233.00,240.19 L233.50,240.22 L234.00,240.25 L234.50,240.28 L235.00,240.30 L235.50,240.33 L236.00,240.36 L236.50,240.39 L237.00,240.42 L237.50,240.46 L238.00,240.49 L238.50,240.53 L239.00,240.57 L239.50,240.60 L240.00,240.64 L240.50,240.68 L241.00,240.71 L241.50,240.75 L242.00,240.79 L242.50,240.82 L243.00,240.86 L243.50,240.90 L244.00,240.93 L244.50,240.97 L245.00,241.01 L245.50,241.04 L246.00,241.08 L246.50,241.12 L247.00,241.15 L247.50,241.19 L248.00,241.23 L248.50,241.26 L249.00,241.30 L249.50,241.33 L250.00,241.37 L250.50,241.41 L251.00,241.44 L251.50,241.48 L252.00,241.52 L252.50,241.55 L253.00,241.59 L253.50,241.63 L254.00,241.66 L254.50,241.70 L255.00,241.74 L255.50,241.79 L256.00,241.83 L256.50,241.87 L257.00,241.91 L257.50,241.96 L258.00,242.00 L258.50,242.04 L259.00,242.09 L259.50,242.13 L260.00,242.17 L260.50,242.21 L261.00,242.26 L261.50,242.30 L262.00,242.34 L262.50,242.39 L263.00,242.43 L263.50,242.47 L264.00,242.51 L264.50,242.56 L265.00,242.60 L265.50,242.69 L266.00,242.77 L266.50,242.85 L267.00,242.94 L267.50,243.03 L268.00,243.11 L268.50,243.19 L269.00,243.28 L269.50,243.37 L270.00,243.45 L270.50,243.53 L271.00,243.62 L271.50,243.71 L272.00,243.79 L272.50,243.88 L273.00,243.96 L273.50,244.05 L274.00,244.13 L274.50,244.22 L275.00,244.30 L275.50,244.43 L276.00,244.56 L276.50,244.69 L277.00,244.82 L277.50,244.95 L278.00,245.08 L278.50,245.21 L279.00,245.34 L279.50,245.47 L280.00,245.60 L280.50,245.73 L281.00,245.86 L281.50,245.99 L282.00,246.12 L282.50,246.25 L283.00,246.39 L283.50,246.54 L284.00,246.69 L284.50,246.84 L285.00,246.99 L285.50,247.14 L286.00,247.29 L286.50,247.44 L287.00,247.60 L287.50,247.75 L288.00,247.90 L288.50,248.05 L289.00,248.20 L289.50,248.35 L290.00,248.50 L290.50,248.65 L291.00,248.80 L291.50,248.94 L292.00,249.08 L292.50,249.23 L293.00,249.37 L293.50,249.51 L294.00,249.65 L294.50,249.79 L295.00,249.94 L295.50,250.08 L296.00,250.22 L296.50,250.36 L297.00,250.51 L297.50,250.65 L298.00,250.79 L298.50,250.93 L299.00,251.07 L299.50,251.22 L300.00,251.36 L300.50,251.50 L301.00,251.62 L301.50,251.74 L302.00,251.86 L302.50,251.98 L303.00,252.11 L303.50,252.23 L304.00,252.35 L304.50,252.47 L305.00,252.59 L305.50,252.71 L306.00,252.83 L306.50,252.95 L307.00,253.07 L307.50,253.19 L308.00,253.32 L308.50,253.44 L309.00,253.56 L309.50,253.68 L310.00,253.80 L310.50,253.89 L311.00,253.98 L311.50,254.07 L312.00,254.16 L312.50,254.25 L313.00,254.34 L313.50,254.43 L314.00,254.52 L314.50,254.61 L315.00,254.70 L315.50,254.79 L316.00,254.88 L316.50,254.97 L317.00,255.06 L317.50,255.15 L318.00,255.24 L318.50,255.33 L319.00,255.42 L319.50,255.51 L320.00,255.60 L320.50,255.66 L321.00,255.72 L321.50,255.78 L322.00,255.84 L322.50,255.90 L323.00,255.96 L323.50,256.02 L324.00,256.08 L324.50,256.14 L325.00,256.20 L325.50,256.26 L326.00,256.32 L326.50,256.38 L327.00,256.44 L327.50,256.50 L328.00,256.56 L328.50,256.62 L329.00,256.68 L329.50,256.74 L330.00,256.80 L330.50,256.82 L331.00,256.85 L331.50,256.88 L332.00,256.90 L332.50,256.93 L333.00,256.95 L333.50,256.98 L334.00,257.00 L334.50,257.03 L335.00,257.05 L335.50,257.07 L336.00,257.10 L336.50,257.12 L337.00,257.15 L337.50,257.18 L338.00,257.20 L338.50,257.23 L339.00,257.25 L339.50,257.28 L340.00,257.30 L340.50,257.31 L341.00,257.32 L341.50,257.32 L342.00,257.33 L342.50,257.34 L343.00,257.35 L343.50,257.35 L344.00,257.36 L344.50,257.37 L345.00,257.38 L345.50,257.39 L346.00,257.39 L346.50,257.40 L347.00,257.41 L347.50,257.42 L348.00,257.42 L348.50,257.43 L349.00,257.44 L349.50,257.45 L350.00,257.46 L350.50,257.46 L351.00,257.47 L351.50,257.48 L352.00,257.49 L352.50,257.49" fill="none" stroke="#2035c8" stroke-width="2.0"/>
<path d="M219.00,239.37 L219.50,239.39 L220.00,239.41 L220.50,239.43 L221.00,239.45 L221.50,239.46 L222.00,239.48 L222.50,239.49 L223.00,239.50 L223.50,239.51 L224.00,239.52 L224.50,239.52 L225.00,239.52 L225.50,239.51 L226.00,239.50 L226.50,239.49 L227.00,239.47 L227.50,239.44 L228.00,239.41 L228.50,239.37 L229.00,239.33 L229.50,239.28 L230.00,239.21 L230.50,239.14 L231.00,239.06 L231.50,238.97 L232.00,238.87 L232.50,238.76 L233.00,238.64 L233.50,238.50 L234.00,238.35 L234.50,238.19 L235.00,238.01 L235.50,237.82 L236.00,237.62 L236.50,237.40 L237.00,237.17 L237.50,236.93 L238.00,236.67 L238.50,236.40 L239.00,236.11 L239.50,235.81 L240.00,235.51 L240.50,235.21 L241.00,234.90 L241.50,234.59 L242.00,234.26 L242.50,233.94 L243.00,233.60 L243.50,233.27 L244.00,232.94 L244.50,232.60 L245.00,232.27 L245.50,231.95 L246.00,231.63 L246.50,231.33 L247.00,231.03 L247.50,230.75 L248.00,230.49 L248.50,230.24 L249.00,230.02 L249.50,229.81 L250.00,229.63 L250.50,229.48 L251.00,229.35 L251.50,229.25 L252.00,229.18 L252.50,229.14 L253.00,229.13 L253.50,229.15 L254.00,229.20 L254.50,229.28 L255.00,229.40 L255.50,229.54 L256.00,229.72 L256.50,229.92 L257.00,230.15 L257.50,230.41 L258.00,230.70 L258.50,231.00 L259.00,231.33 L259.50,231.68 L260.00,232.05 L260.50,232.48 L261.00,232.92 L261.50,233.37 L262.00,233.84 L262.50,234.31 L263.00,234.79 L263.50,235.27 L264.00,235.75 L264.50,236.23 L265.00,236.70 L265.50,237.18 L266.00,237.65 L266.50,238.11 L267.00,238.56 L267.50,239.00 L268.00,239.43 L268.50,239.86 L269.00,240.26 L269.50,240.66 L270.00,241.04 L270.50,241.41 L271.00,241.76 L271.50,242.10 L272.00,242.43 L272.50,242.74 L273.00,243.04 L273.50,243.33 L274.00,243.60 L274.50,243.86 L275.00,244.11 L275.50,244.38 L276.00,244.64 L276.50,244.89 L277.00,245.13 L277.50,245.37 L278.00,245.59 L278.50,245.80 L279.00,246.01 L279.50,246.21 L280.00,246.40 L280.50,246.59 L281.00,246.77 L281.50,246.94 L282.00,247.11 L282.50,247.28 L283.00,247.44 L283.50,247.60 L284.00,247.76 L284.50,247.91 L285.00,248.06 L285.50,248.21 L286.00,248.36 L286.50,248.50 L287.00,248.64 L287.50,248.79 L288.00,248.93 L288.50,249.07 L289.00,249.20 L289.50,249.34 L290.00,249.48 L290.50,249.60 L291.00,249.72 L291.50,249.84 L292.00,249.96 L292.50,250.08 L293.00,250.20 L293.50,250.32 L294.00,250.44 L294.50,250.55 L295.00,250.67 L295.50,250.79 L296.00,250.91 L296.50,251.03 L297.00,251.14 L297.50,251.26 L298.00,251.38 L298.50,251.50 L299.00,251.61 L299.50,251.73 L300.00,251.85 L300.50,251.97 L301.00,252.08 L301.50,252.20 L302.00,252.32 L302.50,252.44 L303.00,252.55 L303.50,252.67 L304.00,252.79 L304.50,252.91 L305.00,253.02 L305.50,253.14 L306.00,253.26 L306.50,253.38 L307.00,253.49 L307.50,253.61 L308.00,253.73 L308.50,253.85 L309.00,253.96 L309.50,254.08 L310.00,254.20 L310.50,254.26 L311.00,254.33 L311.50,254.39 L312.00,254.46 L312.50,254.52 L313.00,254.59 L313.50,254.65 L314.00,254.72 L314.50,254.78 L315.00,254.85 L315.50,254.91 L316.00,254.98 L316.50,255.04 L317.00,255.11 L317.50,255.17 L318.00,255.24 L318.50,255.30 L319.00,255.37 L319.50,255.43 L320.00,255.50 L320.50,255.56 L321.00,255.63 L321.50,255.69 L322.00,255.76 L322.50,255.82 L323.00,255.89 L323.50,255.95 L324.00,256.02 L324.50,256.08 L325.00,256.15 L325.50,256.21 L326.00,256.28 L326.50,256.34 L327.00,256.41 L327.50,256.47 L328.00,256.54 L328.50,256.60 L329.00,256.67 L329.50,256.73 L330.00,256.80 L330.50,256.82 L331.00,256.83 L331.50,256.85 L332.00,256.87 L332.50,256.89 L333.00,256.90 L333.50,256.92 L334.00,256.94 L334.50,256.96 L335.00,256.97 L335.50,256.99 L336.00,257.01 L336.50,257.03 L337.00,257.04 L337.50,257.06 L338.00,257.08 L338.50,257.10 L339.00,257.11 L339.50,257.13 L340.00,257.15 L340.50,257.17 L341.00,257.18 L341.50,257.20 L342.00,257.22 L342.50,257.24 L343.00,257.25 L343.50,257.27 L344.00,257.29 L344.50,257.31 L345.00,257.32 L345.50,257.34 L346.00,257.36 L346.50,257.38 L347.00,257.39 L347.50,257.41 L348.00,257.43 L348.50,257.45 L349.00,257.46 L349.50,257.48 L350.00,257.50 L350.50,257.52 L351.00,257.53 L351.50,257.55 L352.00,257.57 L352.50,257.59" fill="none" stroke="#a23ad6" stroke-width="1.3"/>
<path d="M219.00,239.23 L219.50,239.26 L220.00,239.28 L220.50,239.31 L221.00,239.33 L221.50,239.36 L222.00,239.39 L222.50,239.41 L223.00,239.44 L223.50,239.46 L224.00,239.49 L224.50,239.51 L225.00,239.54 L225.50,239.56 L226.00,239.59 L226.50,239.62 L227.00,239.64 L227.50,239.67 L228.00,239.69 L228.50,239.72 L229.00,239.74 L229.50,239.77 L230.00,239.79 L230.50,239.82 L231.00,239.84 L231.50,239.86 L232.00,239.89 L232.50,239.91 L233.00,239.94 L233.50,239.96 L234.00,239.99 L234.50,240.01 L235.00,240.03 L235.50,240.06 L236.00,240.08 L236.50,240.10 L237.00,240.13 L237.50,240.16 L238.00,240.20 L238.50,240.23 L239.00,240.26 L239.50,240.29 L240.00,240.32 L240.50,240.35 L241.00,240.38 L241.50,240.41 L242.00,240.44 L242.50,240.47 L243.00,240.50 L243.50,240.53 L244.00,240.56 L244.50,240.59 L245.00,240.62 L245.50,240.65 L246.00,240.68 L246.50,240.71 L247.00,240.74 L247.50,240.76 L248.00,240.79 L248.50,240.82 L249.00,240.85 L249.50,240.87 L250.00,240.90 L250.50,240.93 L251.00,240.95 L251.50,240.98 L252.00,241.00 L252.50,241.03 L253.00,241.05 L253.50,241.08 L254.00,241.10 L254.50,241.13 L255.00,241.15 L255.50,241.18 L256.00,241.21 L256.50,241.24 L257.00,241.27 L257.50,241.29 L258.00,241.32 L258.50,241.34 L259.00,241.37 L259.50,241.39 L260.00,241.42 L260.50,241.44 L261.00,241.46 L261.50,241.48 L262.00,241.50 L262.50,241.52 L263.00,241.54 L263.50,241.55 L264.00,241.57 L264.50,241.58 L265.00,241.59 L265.50,241.65 L266.00,241.70 L266.50,241.75 L267.00,241.80 L267.50,241.84 L268.00,241.89 L268.50,241.93 L269.00,241.97 L269.50,242.00 L270.00,242.04 L270.50,242.07 L271.00,242.09 L271.50,242.12 L272.00,242.14 L272.50,242.15 L273.00,242.16 L273.50,242.17 L274.00,242.17 L274.50,242.16 L275.00,242.15 L275.50,242.18 L276.00,242.20 L276.50,242.21 L277.00,242.21 L277.50,242.21 L278.00,242.20 L278.50,242.18 L279.00,242.14 L279.50,242.10 L280.00,242.05 L280.50,241.99 L281.00,241.91 L281.50,241.82 L282.00,241.72 L282.50,241.61 L283.00,241.50 L283.50,241.38 L284.00,241.25 L284.50,241.10 L285.00,240.95 L285.50,240.78 L286.00,240.59 L286.50,240.40 L287.00,240.20 L287.50,239.99 L288.00,239.77 L288.50,239.55 L289.00,239.33 L289.50,239.12 L290.00,238.91 L290.50,238.71 L291.00,238.53 L291.50,238.36 L292.00,238.22 L292.50,238.12 L293.00,238.05 L293.50,238.03 L294.00,238.05 L294.50,238.13 L295.00,238.26 L295.50,238.44 L296.00,238.67 L296.50,238.96 L297.00,239.28 L297.50,239.65 L298.00,240.06 L298.50,240.50 L299.00,240.96 L299.50,241.44 L300.00,241.94 L300.50,242.45 L301.00,242.94 L301.50,243.43 L302.00,243.92 L302.50,244.40 L303.00,244.88 L303.50,245.35 L304.00,245.81 L304.50,246.26 L305.00,246.69 L305.50,247.12 L306.00,247.53 L306.50,247.92 L307.00,248.31 L307.50,248.68 L308.00,249.03 L308.50,249.38 L309.00,249.71 L309.50,250.03 L310.00,250.34 L310.50,250.61 L311.00,250.87 L311.50,251.11 L312.00,251.35 L312.50,251.58 L313.00,251.80 L313.50,252.01 L314.00,252.21 L314.50,252.41 L315.00,252.60 L315.50,252.78 L316.00,252.96 L316.50,253.13 L317.00,253.30 L317.50,253.46 L318.00,253.62 L318.50,253.77 L319.00,253.92 L319.50,254.07 L320.00,254.21 L320.50,254.32 L321.00,254.43 L321.50,254.53 L322.00,254.64 L322.50,254.74 L323.00,254.84 L323.50,254.93 L324.00,255.03 L324.50,255.12 L325.00,255.21 L325.50,255.30 L326.00,255.39 L326.50,255.47 L327.00,255.56 L327.50,255.64 L328.00,255.73 L328.50,255.81 L329.00,255.89 L329.50,255.97 L330.00,256.05 L330.50,256.10 L331.00,256.14 L331.50,256.18 L332.00,256.23 L332.50,256.27 L333.00,256.31 L333.50,256.35 L334.00,256.39 L334.50,256.43 L335.00,256.47 L335.50,256.51 L336.00,256.54 L336.50,256.58 L337.00,256.62 L337.50,256.66 L338.00,256.69 L338.50,256.73 L339.00,256.76 L339.50,256.80 L340.00,256.83 L340.50,256.85 L341.00,256.87 L341.50,256.89 L342.00,256.90 L342.50,256.92 L343.00,256.93 L343.50,256.95 L344.00,256.97 L344.50,256.98 L345.00,257.00 L345.50,257.01 L346.00,257.03 L346.50,257.04 L347.00,257.06 L347.50,257.07 L348.00,257.08 L348.50,257.10 L349.00,257.11 L349.50,257.12 L350.00,257.14 L350.50,257.15 L351.00,257.16 L351.50,257.18 L352.00,257.19 L352.50,257.20" fill="none" stroke="#6b8a1c" stroke-width="1.3"/>
<path d="M219.00,237.82 L219.50,237.82 L220.00,237.82 L220.50,237.82 L221.00,237.83 L221.50,237.83 L222.00,237.83 L222.50,237.82 L223.00,237.82 L223.50,237.82 L224.00,237.82 L224.50,237.81 L225.00,237.81 L225.50,237.80 L226.00,237.79 L226.50,237.78 L227.00,237.78 L227.50,237.77 L228.00,237.75 L228.50,237.74 L229.00,237.73 L229.50,237.72 L230.00,237.70 L230.50,237.68 L231.00,237.66 L231.50,237.64 L232.00,237.62 L232.50,237.60 L233.00,237.58 L233.50,237.55 L234.00,237.52 L234.50,237.50 L235.00,237.47 L235.50,237.43 L236.00,237.40 L236.50,237.36 L237.00,237.33 L237.50,237.30 L238.00,237.26 L238.50,237.22 L239.00,237.18 L239.50,237.14 L240.00,237.10 L240.50,237.05 L241.00,237.00 L241.50,236.94 L242.00,236.88 L242.50,236.82 L243.00,236.76 L243.50,236.69 L244.00,236.62 L244.50,236.54 L245.00,236.46 L245.50,236.37 L246.00,236.28 L246.50,236.18 L247.00,236.08 L247.50,235.96 L248.00,235.85 L248.50,235.72 L249.00,235.59 L249.50,235.45 L250.00,235.30 L250.50,235.14 L251.00,234.97 L251.50,234.79 L252.00,234.60 L252.50,234.39 L253.00,234.17 L253.50,233.94 L254.00,233.69 L254.50,233.42 L255.00,233.14 L255.50,232.84 L256.00,232.52 L256.50,232.18 L257.00,231.81 L257.50,231.42 L258.00,230.99 L258.50,230.54 L259.00,230.06 L259.50,229.54 L260.00,228.99 L260.50,228.39 L261.00,227.76 L261.50,227.09 L262.00,226.37 L262.50,225.60 L263.00,224.79 L263.50,223.93 L264.00,223.01 L264.50,222.04 L265.00,221.01 L265.50,219.96 L266.00,218.86 L266.50,217.69 L267.00,216.46 L267.50,215.17 L268.00,213.82 L268.50,212.40 L269.00,210.93 L269.50,209.39 L270.00,207.80 L270.50,206.15 L271.00,204.46 L271.50,202.73 L272.00,200.96 L272.50,199.17 L273.00,197.37 L273.50,195.56 L274.00,193.78 L274.50,192.03 L275.00,190.34 L275.50,188.78 L276.00,187.31 L276.50,185.97 L277.00,184.78 L277.50,183.76 L278.00,182.94 L278.50,182.33 L279.00,181.96 L279.50,181.82 L280.00,181.94 L280.50,182.30 L281.00,182.90 L281.50,183.74 L282.00,184.79 L282.50,186.04 L283.00,187.48 L283.50,189.09 L284.00,190.82 L284.50,192.66 L285.00,194.57 L285.50,196.55 L286.00,198.56 L286.50,200.60 L287.00,202.64 L287.50,204.67 L288.00,206.67 L288.50,208.65 L289.00,210.58 L289.50,212.47 L290.00,214.30 L290.50,216.08 L291.00,217.80 L291.50,219.45 L292.00,221.04 L292.50,222.57 L293.00,224.03 L293.50,225.43 L294.00,226.77 L294.50,228.05 L295.00,229.28 L295.50,230.44 L296.00,231.55 L296.50,232.61 L297.00,233.61 L297.50,234.57 L298.00,235.48 L298.50,236.34 L299.00,237.17 L299.50,237.95 L300.00,238.69 L300.50,239.40 L301.00,240.05 L301.50,240.67 L302.00,241.26 L302.50,241.82 L303.00,242.36 L303.50,242.87 L304.00,243.36 L304.50,243.82 L305.00,244.27 L305.50,244.70 L306.00,245.11 L306.50,245.50 L307.00,245.88 L307.50,246.24 L308.00,246.60 L308.50,246.94 L309.00,247.26 L309.50,247.58 L310.00,247.89 L310.50,248.16 L311.00,248.42 L311.50,248.67 L312.00,248.92 L312.50,249.15 L313.00,249.39 L313.50,249.61 L314.00,249.83 L314.50,250.04 L315.00,250.25 L315.50,250.46 L316.00,250.66 L316.50,250.85 L317.00,251.05 L317.50,251.23 L318.00,251.42 L318.50,251.60 L319.00,251.78 L319.50,251.95 L320.00,252.13 L320.50,252.27 L321.00,252.40 L321.50,252.54 L322.00,252.67 L322.50,252.80 L323.00,252.92 L323.50,253.05 L324.00,253.17 L324.50,253.29 L325.00,253.41 L325.50,253.53 L326.00,253.65 L326.50,253.76 L327.00,253.87 L327.50,253.98 L328.00,254.09 L328.50,254.20 L329.00,254.31 L329.50,254.41 L330.00,254.52 L330.50,254.58 L331.00,254.65 L331.50,254.72 L332.00,254.78 L332.50,254.84 L333.00,254.91 L333.50,254.97 L334.00,255.03 L334.50,255.09 L335.00,255.15 L335.50,255.20 L336.00,255.26 L336.50,255.32 L337.00,255.37 L337.50,255.43 L338.00,255.48 L338.50,255.53 L339.00,255.59 L339.50,255.64 L340.00,255.69 L340.50,255.72 L341.00,255.76 L341.50,255.79 L342.00,255.82 L342.50,255.85 L343.00,255.88 L343.50,255.91 L344.00,255.94 L344.50,255.97 L345.00,256.00 L345.50,256.03 L346.00,256.05 L346.50,256.08 L347.00,256.11 L347.50,256.13 L348.00,256.16 L348.50,256.19 L349.00,256.21 L349.50,256.24 L350.00,256.26 L350.50,256.28 L351.00,256.31 L351.50,256.33 L352.00,256.36 L352.50,256.38" fill="none" stroke="#1aa672" stroke-width="1.3"/>
<path d="M219.00,239.29 L219.50,239.32 L220.00,239.35 L220.50,239.37 L221.00,239.40 L221.50,239.43 L222.00,239.46 L222.50,239.48 L223.00,239.51 L223.50,239.54 L224.00,239.56 L224.50,239.59 L225.00,239.62 L225.50,239.64 L226.00,239.67 L226.50,239.70 L227.00,239.72 L227.50,239.75 L228.00,239.78 L228.50,239.80 L229.00,239.83 L229.50,239.86 L230.00,239.88 L230.50,239.91 L231.00,239.94 L231.50,239.96 L232.00,239.99 L232.50,240.02 L233.00,240.04 L233.50,240.07 L234.00,240.10 L234.50,240.12 L235.00,240.15 L235.50,240.17 L236.00,240.20 L236.50,240.23 L237.00,240.26 L237.50,240.29 L238.00,240.33 L238.50,240.36 L239.00,240.39 L239.50,240.43 L240.00,240.46 L240.50,240.50 L241.00,240.53 L241.50,240.56 L242.00,240.60 L242.50,240.63 L243.00,240.67 L243.50,240.70 L244.00,240.73 L244.50,240.77 L245.00,240.80 L245.50,240.83 L246.00,240.87 L246.50,240.90 L247.00,240.93 L247.50,240.97 L248.00,241.00 L248.50,241.03 L249.00,241.07 L249.50,241.10 L250.00,241.13 L250.50,241.16 L251.00,241.20 L251.50,241.23 L252.00,241.26 L252.50,241.29 L253.00,241.32 L253.50,241.36 L254.00,241.39 L254.50,241.42 L255.00,241.46 L255.50,241.50 L256.00,241.53 L256.50,241.57 L257.00,241.61 L257.50,241.64 L258.00,241.68 L258.50,241.72 L259.00,241.76 L259.50,241.79 L260.00,241.83 L260.50,241.86 L261.00,241.90 L261.50,241.94 L262.00,241.97 L262.50,242.01 L263.00,242.04 L263.50,242.08 L264.00,242.11 L264.50,242.15 L265.00,242.18 L265.50,242.26 L266.00,242.33 L266.50,242.41 L267.00,242.48 L267.50,242.56 L268.00,242.63 L268.50,242.70 L269.00,242.78 L269.50,242.85 L270.00,242.92 L270.50,243.00 L271.00,243.07 L271.50,243.14 L272.00,243.21 L272.50,243.28 L273.00,243.35 L273.50,243.42 L274.00,243.49 L274.50,243.56 L275.00,243.62 L275.50,243.74 L276.00,243.85 L276.50,243.96 L277.00,244.06 L277.50,244.17 L278.00,244.28 L278.50,244.39 L279.00,244.49 L279.50,244.59 L280.00,244.69 L280.50,244.79 L281.00,244.89 L281.50,244.99 L282.00,245.08 L282.50,245.18 L283.00,245.28 L283.50,245.38 L284.00,245.49 L284.50,245.59 L285.00,245.68 L285.50,245.77 L286.00,245.85 L286.50,245.93 L287.00,246.00 L287.50,246.06 L288.00,246.11 L288.50,246.14 L289.00,246.17 L289.50,246.18 L290.00,246.18 L290.50,246.15 L291.00,246.11 L291.50,246.04 L292.00,245.94 L292.50,245.82 L293.00,245.66 L293.50,245.48 L294.00,245.26 L294.50,245.00 L295.00,244.71 L295.50,244.37 L296.00,243.99 L296.50,243.57 L297.00,243.10 L297.50,242.58 L298.00,242.02 L298.50,241.40 L299.00,240.74 L299.50,240.03 L300.00,239.27 L300.50,238.47 L301.00,237.60 L301.50,236.70 L302.00,235.77 L302.50,234.81 L303.00,233.84 L303.50,232.85 L304.00,231.86 L304.50,230.87 L305.00,229.90 L305.50,228.97 L306.00,228.07 L306.50,227.24 L307.00,226.48 L307.50,225.80 L308.00,225.23 L308.50,224.78 L309.00,224.45 L309.50,224.27 L310.00,224.23 L310.50,224.31 L311.00,224.54 L311.50,224.92 L312.00,225.44 L312.50,226.09 L313.00,226.86 L313.50,227.73 L314.00,228.69 L314.50,229.73 L315.00,230.83 L315.50,231.97 L316.00,233.14 L316.50,234.34 L317.00,235.54 L317.50,236.74 L318.00,237.93 L318.50,239.11 L319.00,240.25 L319.50,241.37 L320.00,242.45 L320.50,243.45 L321.00,244.42 L321.50,245.34 L322.00,246.21 L322.50,247.03 L323.00,247.81 L323.50,248.54 L324.00,249.21 L324.50,249.84 L325.00,250.43 L325.50,250.97 L326.00,251.48 L326.50,251.94 L327.00,252.36 L327.50,252.75 L328.00,253.11 L328.50,253.44 L329.00,253.75 L329.50,254.02 L330.00,254.28 L330.50,254.48 L331.00,254.66 L331.50,254.83 L332.00,254.98 L332.50,255.12 L333.00,255.25 L333.50,255.37 L334.00,255.47 L334.50,255.57 L335.00,255.67 L335.50,255.75 L336.00,255.84 L336.50,255.91 L337.00,255.99 L337.50,256.06 L338.00,256.12 L338.50,256.19 L339.00,256.25 L339.50,256.31 L340.00,256.36 L340.50,256.40 L341.00,256.44 L341.50,256.47 L342.00,256.50 L342.50,256.54 L343.00,256.57 L343.50,256.60 L344.00,256.63 L344.50,256.65 L345.00,256.68 L345.50,256.71 L346.00,256.73 L346.50,256.76 L347.00,256.78 L347.50,256.81 L348.00,256.83 L348.50,256.85 L349.00,256.87 L349.50,256.89 L350.00,256.92 L350.50,256.94 L351.00,256.96 L351.50,256.98 L352.00,256.99 L352.50,257.01" fill="none" stroke="#2438d8" stroke-width="1.5"/>
<path d="M219.00,236.83 L221.34,238.90 L223.54,237.01 L225.92,235.46 L228.19,237.22 L230.88,234.50 L232.83,234.12 L235.55,236.11 L237.11,236.94 L240.06,234.47 L242.48,231.17 L244.00,231.98 L245.59,229.52 L247.45,227.54 L249.65,227.67 L252.41,225.21 L254.87,222.51 L257.37,219.75 L259.29,219.80 L262.28,214.80 L264.84,207.70 L266.68,203.23 L268.29,200.84 L270.39,195.10 L272.47,188.87 L275.24,177.11 L277.06,178.46 L279.26,177.76 L281.36,173.53 L283.80,180.09 L285.71,182.27 L287.70,192.61 L290.34,197.25 L292.21,202.24 L293.80,208.48 L295.57,209.65 L297.74,209.06 L300.34,208.48 L302.80,207.73 L304.93,207.83 L306.84,211.37 L309.54,209.97 L312.37,213.19 L314.46,220.28 L316.92,223.31 L319.91,232.02 L321.80,239.09 L323.79,241.07 L325.40,242.79 L327.77,246.38 L330.18,248.99 L332.36,252.73 L334.58,251.92 L337.38,251.07 L339.11,254.73 L341.84,252.41 L343.62,254.88 L346.53,252.96 L349.46,256.39 L351.86,254.67 L352.90,255.14" fill="none" stroke="#151515" stroke-width="1.1" stroke-linejoin="bevel"/>
<path d="M219.00,236.54 L219.50,236.51 L220.00,236.48 L220.50,236.45 L221.00,236.41 L221.50,236.37 L222.00,236.33 L222.50,236.29 L223.00,236.24 L223.50,236.19 L224.00,236.14 L224.50,236.09 L225.00,236.03 L225.50,235.97 L226.00,235.90 L226.50,235.83 L227.00,235.76 L227.50,235.69 L228.00,235.60 L228.50,235.52 L229.00,235.43 L229.50,235.33 L230.00,235.23 L230.50,235.13 L231.00,235.02 L231.50,234.90 L232.00,234.77 L232.50,234.64 L233.00,234.51 L233.50,234.37 L234.00,234.21 L234.50,234.06 L235.00,233.89 L235.50,233.72 L236.00,233.54 L236.50,233.35 L237.00,233.15 L237.50,232.95 L238.00,232.75 L238.50,232.53 L239.00,232.30 L239.50,232.06 L240.00,231.82 L240.50,231.56 L241.00,231.29 L241.50,231.01 L242.00,230.72 L242.50,230.42 L243.00,230.11 L243.50,229.79 L244.00,229.45 L244.50,229.11 L245.00,228.76 L245.50,228.39 L246.00,228.01 L246.50,227.63 L247.00,227.23 L247.50,226.82 L248.00,226.41 L248.50,225.98 L249.00,225.55 L249.50,225.11 L250.00,224.66 L250.50,224.20 L251.00,223.74 L251.50,223.28 L252.00,222.81 L252.50,222.34 L253.00,221.87 L253.50,221.40 L254.00,220.93 L254.50,220.46 L255.00,220.00 L255.50,219.54 L256.00,219.09 L256.50,218.64 L257.00,218.19 L257.50,217.74 L258.00,217.29 L258.50,216.84 L259.00,216.38 L259.50,215.92 L260.00,215.45 L260.50,214.96 L261.00,214.45 L261.50,213.91 L262.00,213.34 L262.50,212.74 L263.00,212.09 L263.50,211.40 L264.00,210.65 L264.50,209.84 L265.00,208.96 L265.50,208.06 L266.00,207.09 L266.50,206.04 L267.00,204.91 L267.50,203.70 L268.00,202.43 L268.50,201.07 L269.00,199.65 L269.50,198.16 L270.00,196.62 L270.50,195.03 L271.00,193.40 L271.50,191.74 L272.00,190.06 L272.50,188.38 L273.00,186.72 L273.50,185.08 L274.00,183.48 L274.50,181.94 L275.00,180.47 L275.50,179.14 L276.00,177.91 L276.50,176.79 L277.00,175.81 L277.50,174.97 L278.00,174.28 L278.50,173.75 L279.00,173.40 L279.50,173.21 L280.00,173.21 L280.50,173.38 L281.00,173.73 L281.50,174.25 L282.00,174.95 L282.50,175.80 L283.00,176.82 L283.50,177.99 L284.00,179.29 L284.50,180.71 L285.00,182.23 L285.50,183.83 L286.00,185.50 L286.50,187.22 L287.00,188.98 L287.50,190.76 L288.00,192.54 L288.50,194.30 L289.00,196.04 L289.50,197.73 L290.00,199.37 L290.50,200.93 L291.00,202.42 L291.50,203.80 L292.00,205.09 L292.50,206.28 L293.00,207.36 L293.50,208.33 L294.00,209.19 L294.50,209.94 L295.00,210.57 L295.50,211.10 L296.00,211.53 L296.50,211.86 L297.00,212.10 L297.50,212.26 L298.00,212.35 L298.50,212.38 L299.00,212.35 L299.50,212.28 L300.00,212.17 L300.50,212.04 L301.00,211.88 L301.50,211.71 L302.00,211.53 L302.50,211.37 L303.00,211.22 L303.50,211.09 L304.00,210.98 L304.50,210.89 L305.00,210.84 L305.50,210.82 L306.00,210.83 L306.50,210.89 L307.00,210.99 L307.50,211.14 L308.00,211.35 L308.50,211.61 L309.00,211.93 L309.50,212.31 L310.00,212.77 L310.50,213.27 L311.00,213.85 L311.50,214.51 L312.00,215.24 L312.50,216.06 L313.00,216.96 L313.50,217.93 L314.00,218.98 L314.50,220.09 L315.00,221.26 L315.50,222.49 L316.00,223.77 L316.50,225.08 L317.00,226.42 L317.50,227.78 L318.00,229.15 L318.50,230.51 L319.00,231.87 L319.50,233.21 L320.00,234.52 L320.50,235.77 L321.00,236.98 L321.50,238.14 L322.00,239.25 L322.50,240.31 L323.00,241.31 L323.50,242.25 L324.00,243.14 L324.50,243.97 L325.00,244.75 L325.50,245.47 L326.00,246.14 L326.50,246.75 L327.00,247.33 L327.50,247.85 L328.00,248.34 L328.50,248.79 L329.00,249.20 L329.50,249.59 L330.00,249.94 L330.50,250.24 L331.00,250.51 L331.50,250.76 L332.00,251.00 L332.50,251.22 L333.00,251.42 L333.50,251.61 L334.00,251.79 L334.50,251.96 L335.00,252.13 L335.50,252.28 L336.00,252.43 L336.50,252.57 L337.00,252.70 L337.50,252.84 L338.00,252.96 L338.50,253.08 L339.00,253.20 L339.50,253.32 L340.00,253.43 L340.50,253.52 L341.00,253.61 L341.50,253.70 L342.00,253.78 L342.50,253.86 L343.00,253.94 L343.50,254.02 L344.00,254.09 L344.50,254.16 L345.00,254.23 L345.50,254.30 L346.00,254.37 L346.50,254.43 L347.00,254.50 L347.50,254.56 L348.00,254.62 L348.50,254.68 L349.00,254.73 L349.50,254.79 L350.00,254.85 L350.50,254.90 L351.00,254.95 L351.50,255.00 L352.00,255.05 L352.50,255.10" fill="none" stroke="#ee1c2e" stroke-width="1.6"/>
<text x="288.5" y="169.7" font-size="7.6" fill="#111" stroke="#111" stroke-width="0.25" text-anchor="start" >Pyridinic N</text>
<path d="M288.50,171.30 L283.90,176.17" stroke="#111" stroke-width="1.2" fill="none"/>
<path d="M281.70,178.50 L282.73,175.07 L285.06,177.27 Z" fill="#111"/>
<text x="230.3" y="205.8" font-size="7.6" fill="#111" stroke="#111" stroke-width="0.25" text-anchor="start" >Pyrrolic N</text>
<path d="M250.60,209.80 L259.87,216.18" stroke="#111" stroke-width="1.2" fill="none"/>
<path d="M262.50,218.00 L258.96,217.50 L260.77,214.87 Z" fill="#111"/>
<text x="276" y="227.7" font-size="7.4" fill="#111" stroke="#111" stroke-width="0.25" text-anchor="start" >N-Mo</text>
<path d="M287.20,229.80 L292.04,234.64" stroke="#111" stroke-width="1.2" fill="none"/>
<path d="M294.30,236.90 L290.91,235.77 L293.17,233.51 Z" fill="#111"/>
<text x="319.4" y="213.6" font-size="7.6" fill="#111" stroke="#111" stroke-width="0.25" text-anchor="start" >Mo 3p</text>
<path d="M319.10,215.40 L314.88,221.21" stroke="#111" stroke-width="1.2" fill="none"/>
<path d="M313.00,223.80 L313.59,220.27 L316.17,222.15 Z" fill="#111"/>
</svg>
</body></html>
